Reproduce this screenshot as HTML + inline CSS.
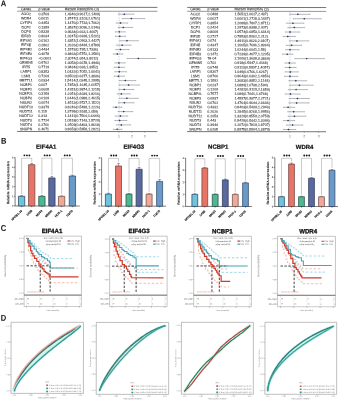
<!DOCTYPE html>
<html><head><meta charset="utf-8"><style>
html,body{margin:0;padding:0;background:#fff;width:340px;height:400px;overflow:hidden}
svg{display:block;font-family:"Liberation Sans", sans-serif;will-change:transform}
</style></head><body>
<svg width="340" height="400" viewBox="0 0 340 400">
<rect width="340" height="400" fill="#fff"/>
<g transform="rotate(0.05 170 200)">
<text x="0" y="0" font-size="7.6" fill="#111" font-weight="bold" transform="translate(0.6,6.4) scale(1,1.12)">A</text>
<text x="0" y="0" font-size="7.6" fill="#111" font-weight="bold" transform="translate(0.9,143.9) scale(1,1.12)">B</text>
<text x="0" y="0" font-size="7.6" fill="#111" font-weight="bold" transform="translate(0.9,231.2) scale(1,1.12)">C</text>
<text x="0" y="0" font-size="7.6" fill="#111" font-weight="bold" transform="translate(0.9,320.9) scale(1,1.12)">D</text>
<g stroke="#3a3a3a" stroke-width="0.09">
<line x1="17" y1="7.4" x2="157.3" y2="7.4" stroke="#3a3a3a" stroke-width="0.7" />
<line x1="17" y1="11.3" x2="157.3" y2="11.3" stroke="#444" stroke-width="0.55" />
<text x="26" y="10.3" font-size="3.5" fill="#3a3a3a" text-anchor="middle" font-weight="normal" >Genes</text>
<text x="38.3" y="10.3" font-size="3.5" fill="#3a3a3a" text-anchor="start" font-weight="normal" >p value</text>
<text x="64.6" y="10.3" font-size="3.5" fill="#3a3a3a" text-anchor="start" font-weight="normal" >Hazard Ratio(95% CI)</text>
<text x="26" y="15.25" font-size="3.5" fill="#3a3a3a" text-anchor="middle" font-weight="normal" >AGO2</text>
<text x="38.3" y="15.25" font-size="3.5" fill="#3a3a3a" text-anchor="start" font-weight="normal" >0.3769</text>
<text x="64.6" y="15.25" font-size="3.5" fill="#3a3a3a" text-anchor="start" font-weight="normal" >1.4346(0.9617,2.1409)</text>
<text x="26" y="19.68" font-size="3.5" fill="#3a3a3a" text-anchor="middle" font-weight="normal" >WDR4</text>
<text x="38.3" y="19.68" font-size="3.5" fill="#3a3a3a" text-anchor="start" font-weight="normal" >0.0011</text>
<text x="64.6" y="19.68" font-size="3.5" fill="#3a3a3a" text-anchor="start" font-weight="normal" >1.8747(1.3103,2.6761)</text>
<text x="26" y="24.11" font-size="3.5" fill="#3a3a3a" text-anchor="middle" font-weight="normal" >CYFIP1</text>
<text x="38.3" y="24.11" font-size="3.5" fill="#3a3a3a" text-anchor="start" font-weight="normal" >0.4453</text>
<text x="64.6" y="24.11" font-size="3.5" fill="#3a3a3a" text-anchor="start" font-weight="normal" >1.1476(0.7733,1.7062)</text>
<text x="26" y="28.54" font-size="3.5" fill="#3a3a3a" text-anchor="middle" font-weight="normal" >DCP2</text>
<text x="38.3" y="28.54" font-size="3.5" fill="#3a3a3a" text-anchor="start" font-weight="normal" >0.1359</text>
<text x="64.6" y="28.54" font-size="3.5" fill="#3a3a3a" text-anchor="start" font-weight="normal" >1.3537(0.9096,2.0146)</text>
<text x="26" y="32.97" font-size="3.5" fill="#3a3a3a" text-anchor="middle" font-weight="normal" >DCPS</text>
<text x="38.3" y="32.97" font-size="3.5" fill="#3a3a3a" text-anchor="start" font-weight="normal" >0.8338</text>
<text x="64.6" y="32.97" font-size="3.5" fill="#3a3a3a" text-anchor="start" font-weight="normal" >0.9634(0.663,1.4007)</text>
<text x="26" y="37.4" font-size="3.5" fill="#3a3a3a" text-anchor="middle" font-weight="normal" >EIF3D</text>
<text x="38.3" y="37.4" font-size="3.5" fill="#3a3a3a" text-anchor="start" font-weight="normal" >0.9034</text>
<text x="64.6" y="37.4" font-size="3.5" fill="#3a3a3a" text-anchor="start" font-weight="normal" >1.0247(0.6939,1.5201)</text>
<text x="26" y="41.83" font-size="3.5" fill="#3a3a3a" text-anchor="middle" font-weight="normal" >EIF4A1</text>
<text x="38.3" y="41.83" font-size="3.5" fill="#3a3a3a" text-anchor="start" font-weight="normal" >0.0162</text>
<text x="64.6" y="41.83" font-size="3.5" fill="#3a3a3a" text-anchor="start" font-weight="normal" >1.6351(1.0963,2.4427)</text>
<text x="26" y="46.26" font-size="3.5" fill="#3a3a3a" text-anchor="middle" font-weight="normal" >EIF4E</text>
<text x="38.3" y="46.26" font-size="3.5" fill="#3a3a3a" text-anchor="start" font-weight="normal" >0.2862</text>
<text x="64.6" y="46.26" font-size="3.5" fill="#3a3a3a" text-anchor="start" font-weight="normal" >1.2626(0.8484,1.8789)</text>
<text x="26" y="50.69" font-size="3.5" fill="#3a3a3a" text-anchor="middle" font-weight="normal" >EIF4E2</text>
<text x="38.3" y="50.69" font-size="3.5" fill="#3a3a3a" text-anchor="start" font-weight="normal" >0.4434</text>
<text x="64.6" y="50.69" font-size="3.5" fill="#3a3a3a" text-anchor="start" font-weight="normal" >1.1573(0.795,1.7336)</text>
<text x="26" y="55.12" font-size="3.5" fill="#3a3a3a" text-anchor="middle" font-weight="normal" >EIF4E3</text>
<text x="38.3" y="55.12" font-size="3.5" fill="#3a3a3a" text-anchor="start" font-weight="normal" >0.4078</text>
<text x="64.6" y="55.12" font-size="3.5" fill="#3a3a3a" text-anchor="start" font-weight="normal" >0.8463(0.5752,1.2581)</text>
<text x="26" y="59.55" font-size="3.5" fill="#3a3a3a" text-anchor="middle" font-weight="normal" >EIF4G3</text>
<text x="38.3" y="59.55" font-size="3.5" fill="#3a3a3a" text-anchor="start" font-weight="normal" >&lt;0.0001</text>
<text x="64.6" y="59.55" font-size="3.5" fill="#3a3a3a" text-anchor="start" font-weight="normal" >2.3074(1.654,3.8012)</text>
<text x="26" y="63.98" font-size="3.5" fill="#3a3a3a" text-anchor="middle" font-weight="normal" >GEMIN5</text>
<text x="38.3" y="63.98" font-size="3.5" fill="#3a3a3a" text-anchor="start" font-weight="normal" >0.9762</text>
<text x="64.6" y="63.98" font-size="3.5" fill="#3a3a3a" text-anchor="start" font-weight="normal" >1.0053(0.6678,1.4946)</text>
<text x="26" y="68.41" font-size="3.5" fill="#3a3a3a" text-anchor="middle" font-weight="normal" >IFIT5</text>
<text x="38.3" y="68.41" font-size="3.5" fill="#3a3a3a" text-anchor="start" font-weight="normal" >0.7719</text>
<text x="64.6" y="68.41" font-size="3.5" fill="#3a3a3a" text-anchor="start" font-weight="normal" >0.9434(0.638,1.3952)</text>
<text x="26" y="72.84" font-size="3.5" fill="#3a3a3a" text-anchor="middle" font-weight="normal" >LARP1</text>
<text x="38.3" y="72.84" font-size="3.5" fill="#3a3a3a" text-anchor="start" font-weight="normal" >0.8353</text>
<text x="64.6" y="72.84" font-size="3.5" fill="#3a3a3a" text-anchor="start" font-weight="normal" >1.0432(0.7052,1.6041)</text>
<text x="26" y="77.27" font-size="3.5" fill="#3a3a3a" text-anchor="middle" font-weight="normal" >LSM1</text>
<text x="38.3" y="77.27" font-size="3.5" fill="#3a3a3a" text-anchor="start" font-weight="normal" >0.7269</text>
<text x="64.6" y="77.27" font-size="3.5" fill="#3a3a3a" text-anchor="start" font-weight="normal" >0.9502(0.6377,1.3836)</text>
<text x="26" y="81.7" font-size="3.5" fill="#3a3a3a" text-anchor="middle" font-weight="normal" >METTL1</text>
<text x="38.3" y="81.7" font-size="3.5" fill="#3a3a3a" text-anchor="start" font-weight="normal" >0.0334</text>
<text x="64.6" y="81.7" font-size="3.5" fill="#3a3a3a" text-anchor="start" font-weight="normal" >1.5414(1.0345,2.2995)</text>
<text x="26" y="86.13" font-size="3.5" fill="#3a3a3a" text-anchor="middle" font-weight="normal" >NCBP1</text>
<text x="38.3" y="86.13" font-size="3.5" fill="#3a3a3a" text-anchor="start" font-weight="normal" >0.007</text>
<text x="64.6" y="86.13" font-size="3.5" fill="#3a3a3a" text-anchor="start" font-weight="normal" >1.7453(1.1645,2.6157)</text>
<text x="26" y="90.56" font-size="3.5" fill="#3a3a3a" text-anchor="middle" font-weight="normal" >NCBP2</text>
<text x="38.3" y="90.56" font-size="3.5" fill="#3a3a3a" text-anchor="start" font-weight="normal" >0.0605</text>
<text x="64.6" y="90.56" font-size="3.5" fill="#3a3a3a" text-anchor="start" font-weight="normal" >1.4251(0.9874,2.1215)</text>
<text x="26" y="94.99" font-size="3.5" fill="#3a3a3a" text-anchor="middle" font-weight="normal" >NCBP2L</text>
<text x="38.3" y="94.99" font-size="3.5" fill="#3a3a3a" text-anchor="start" font-weight="normal" >0.3159</text>
<text x="64.6" y="94.99" font-size="3.5" fill="#3a3a3a" text-anchor="start" font-weight="normal" >1.2251(0.8239,1.8216)</text>
<text x="26" y="99.42" font-size="3.5" fill="#3a3a3a" text-anchor="middle" font-weight="normal" >NCBP3</text>
<text x="38.3" y="99.42" font-size="3.5" fill="#3a3a3a" text-anchor="start" font-weight="normal" >0.0109</text>
<text x="64.6" y="99.42" font-size="3.5" fill="#3a3a3a" text-anchor="start" font-weight="normal" >1.6446(1.0988,2.4615)</text>
<text x="26" y="103.85" font-size="3.5" fill="#3a3a3a" text-anchor="middle" font-weight="normal" >NSUN2</text>
<text x="38.3" y="103.85" font-size="3.5" fill="#3a3a3a" text-anchor="start" font-weight="normal" >0.0074</text>
<text x="64.6" y="103.85" font-size="3.5" fill="#3a3a3a" text-anchor="start" font-weight="normal" >1.4513(0.9737,2.1522)</text>
<text x="26" y="108.28" font-size="3.5" fill="#3a3a3a" text-anchor="middle" font-weight="normal" >NUDT10</text>
<text x="38.3" y="108.28" font-size="3.5" fill="#3a3a3a" text-anchor="start" font-weight="normal" >0.3379</text>
<text x="64.6" y="108.28" font-size="3.5" fill="#3a3a3a" text-anchor="start" font-weight="normal" >0.8246(0.5498,1.2226)</text>
<text x="26" y="112.71" font-size="3.5" fill="#3a3a3a" text-anchor="middle" font-weight="normal" >NUDT11</text>
<text x="38.3" y="112.71" font-size="3.5" fill="#3a3a3a" text-anchor="start" font-weight="normal" >0.115</text>
<text x="64.6" y="112.71" font-size="3.5" fill="#3a3a3a" text-anchor="start" font-weight="normal" >1.3798(0.9245,2.059)</text>
<text x="26" y="117.14" font-size="3.5" fill="#3a3a3a" text-anchor="middle" font-weight="normal" >NUDT12</text>
<text x="38.3" y="117.14" font-size="3.5" fill="#3a3a3a" text-anchor="start" font-weight="normal" >0.313</text>
<text x="64.6" y="117.14" font-size="3.5" fill="#3a3a3a" text-anchor="start" font-weight="normal" >1.1411(0.7564,1.6444)</text>
<text x="26" y="121.57" font-size="3.5" fill="#3a3a3a" text-anchor="middle" font-weight="normal" >NUDT3</text>
<text x="38.3" y="121.57" font-size="3.5" fill="#3a3a3a" text-anchor="start" font-weight="normal" >0.7724</text>
<text x="64.6" y="121.57" font-size="3.5" fill="#3a3a3a" text-anchor="start" font-weight="normal" >1.0518(0.7143,1.5729)</text>
<text x="26" y="126" font-size="3.5" fill="#3a3a3a" text-anchor="middle" font-weight="normal" >NUDT4</text>
<text x="38.3" y="126" font-size="3.5" fill="#3a3a3a" text-anchor="start" font-weight="normal" >0.2701</text>
<text x="64.6" y="126" font-size="3.5" fill="#3a3a3a" text-anchor="start" font-weight="normal" >1.2509(0.8403,1.8618)</text>
<text x="26" y="130.43" font-size="3.5" fill="#3a3a3a" text-anchor="middle" font-weight="normal" >SNUPN</text>
<text x="38.3" y="130.43" font-size="3.5" fill="#3a3a3a" text-anchor="start" font-weight="normal" >0.4671</text>
<text x="64.6" y="130.43" font-size="3.5" fill="#3a3a3a" text-anchor="start" font-weight="normal" >0.8653(0.5858,1.2821)</text>
</g>
<line x1="119" y1="12" x2="119" y2="131.3" stroke="#8a93a3" stroke-width="0.4" stroke-dasharray="1.4,1.2"/>
<line x1="118.3" y1="14.2" x2="133.8" y2="14.2" stroke="#4a4f5a" stroke-width="0.42" />
<line x1="118.3" y1="13.7" x2="118.3" y2="14.7" stroke="#4a4f5a" stroke-width="0.3" />
<line x1="133.8" y1="13.7" x2="133.8" y2="14.7" stroke="#4a4f5a" stroke-width="0.3" />
<rect x="123.4" y="13.5" width="1.4" height="1.4" fill="#24365e" transform="rotate(45 124.1 14.2)"/>
<line x1="122" y1="18.63" x2="144.6" y2="18.63" stroke="#4a4f5a" stroke-width="0.42" />
<line x1="122" y1="18.13" x2="122" y2="19.13" stroke="#4a4f5a" stroke-width="0.3" />
<line x1="144.6" y1="18.13" x2="144.6" y2="19.13" stroke="#4a4f5a" stroke-width="0.3" />
<rect x="130.5" y="17.93" width="1.4" height="1.4" fill="#24365e" transform="rotate(45 131.2 18.63)"/>
<line x1="116" y1="23.06" x2="127.6" y2="23.06" stroke="#4a4f5a" stroke-width="0.42" />
<line x1="116" y1="22.56" x2="116" y2="23.56" stroke="#4a4f5a" stroke-width="0.3" />
<line x1="127.6" y1="22.56" x2="127.6" y2="23.56" stroke="#4a4f5a" stroke-width="0.3" />
<rect x="119.7" y="22.36" width="1.4" height="1.4" fill="#24365e" transform="rotate(45 120.4 23.06)"/>
<line x1="118" y1="27.49" x2="132.5" y2="27.49" stroke="#4a4f5a" stroke-width="0.42" />
<line x1="118" y1="26.99" x2="118" y2="27.99" stroke="#4a4f5a" stroke-width="0.3" />
<line x1="132.5" y1="26.99" x2="132.5" y2="27.99" stroke="#4a4f5a" stroke-width="0.3" />
<rect x="122.4" y="26.79" width="1.4" height="1.4" fill="#24365e" transform="rotate(45 123.1 27.49)"/>
<line x1="115" y1="31.92" x2="125.2" y2="31.92" stroke="#4a4f5a" stroke-width="0.42" />
<line x1="115" y1="31.42" x2="115" y2="32.42" stroke="#4a4f5a" stroke-width="0.3" />
<line x1="125.2" y1="31.42" x2="125.2" y2="32.42" stroke="#4a4f5a" stroke-width="0.3" />
<rect x="118.5" y="31.22" width="1.4" height="1.4" fill="#24365e" transform="rotate(45 119.2 31.92)"/>
<line x1="115" y1="36.35" x2="125.7" y2="36.35" stroke="#4a4f5a" stroke-width="0.42" />
<line x1="115" y1="35.85" x2="115" y2="36.85" stroke="#4a4f5a" stroke-width="0.3" />
<line x1="125.7" y1="35.85" x2="125.7" y2="36.85" stroke="#4a4f5a" stroke-width="0.3" />
<rect x="118.9" y="35.65" width="1.4" height="1.4" fill="#24365e" transform="rotate(45 119.6 36.35)"/>
<line x1="119.6" y1="40.78" x2="138.2" y2="40.78" stroke="#4a4f5a" stroke-width="0.42" />
<line x1="119.6" y1="40.28" x2="119.6" y2="41.28" stroke="#4a4f5a" stroke-width="0.3" />
<line x1="138.2" y1="40.28" x2="138.2" y2="41.28" stroke="#4a4f5a" stroke-width="0.3" />
<rect x="126.1" y="40.08" width="1.4" height="1.4" fill="#24365e" transform="rotate(45 126.8 40.78)"/>
<line x1="116.3" y1="45.21" x2="130.9" y2="45.21" stroke="#4a4f5a" stroke-width="0.42" />
<line x1="116.3" y1="44.71" x2="116.3" y2="45.71" stroke="#4a4f5a" stroke-width="0.3" />
<line x1="130.9" y1="44.71" x2="130.9" y2="45.71" stroke="#4a4f5a" stroke-width="0.3" />
<rect x="121.3" y="44.51" width="1.4" height="1.4" fill="#24365e" transform="rotate(45 122 45.21)"/>
<line x1="115.5" y1="49.64" x2="129" y2="49.64" stroke="#4a4f5a" stroke-width="0.42" />
<line x1="115.5" y1="49.14" x2="115.5" y2="50.14" stroke="#4a4f5a" stroke-width="0.3" />
<line x1="129" y1="49.14" x2="129" y2="50.14" stroke="#4a4f5a" stroke-width="0.3" />
<rect x="119.7" y="48.94" width="1.4" height="1.4" fill="#24365e" transform="rotate(45 120.4 49.64)"/>
<line x1="113.1" y1="54.07" x2="122.8" y2="54.07" stroke="#4a4f5a" stroke-width="0.42" />
<line x1="113.1" y1="53.57" x2="113.1" y2="54.57" stroke="#4a4f5a" stroke-width="0.3" />
<line x1="122.8" y1="53.57" x2="122.8" y2="54.57" stroke="#4a4f5a" stroke-width="0.3" />
<rect x="116.4" y="53.37" width="1.4" height="1.4" fill="#24365e" transform="rotate(45 117.1 54.07)"/>
<line x1="126.8" y1="58.5" x2="155.5" y2="58.5" stroke="#4a4f5a" stroke-width="0.42" />
<line x1="126.8" y1="58" x2="126.8" y2="59" stroke="#4a4f5a" stroke-width="0.3" />
<line x1="155.5" y1="58" x2="155.5" y2="59" stroke="#4a4f5a" stroke-width="0.3" />
<rect x="137.5" y="57.8" width="1.4" height="1.4" fill="#24365e" transform="rotate(45 138.2 58.5)"/>
<line x1="114.7" y1="62.93" x2="125.2" y2="62.93" stroke="#4a4f5a" stroke-width="0.42" />
<line x1="114.7" y1="62.43" x2="114.7" y2="63.43" stroke="#4a4f5a" stroke-width="0.3" />
<line x1="125.2" y1="62.43" x2="125.2" y2="63.43" stroke="#4a4f5a" stroke-width="0.3" />
<rect x="118.1" y="62.23" width="1.4" height="1.4" fill="#24365e" transform="rotate(45 118.8 62.93)"/>
<line x1="113.9" y1="67.36" x2="124.4" y2="67.36" stroke="#4a4f5a" stroke-width="0.42" />
<line x1="113.9" y1="66.86" x2="113.9" y2="67.86" stroke="#4a4f5a" stroke-width="0.3" />
<line x1="124.4" y1="66.86" x2="124.4" y2="67.86" stroke="#4a4f5a" stroke-width="0.3" />
<rect x="118.1" y="66.66" width="1.4" height="1.4" fill="#24365e" transform="rotate(45 118.8 67.36)"/>
<line x1="114.7" y1="71.79" x2="126.4" y2="71.79" stroke="#4a4f5a" stroke-width="0.42" />
<line x1="114.7" y1="71.29" x2="114.7" y2="72.29" stroke="#4a4f5a" stroke-width="0.3" />
<line x1="126.4" y1="71.29" x2="126.4" y2="72.29" stroke="#4a4f5a" stroke-width="0.3" />
<rect x="118.5" y="71.09" width="1.4" height="1.4" fill="#24365e" transform="rotate(45 119.2 71.79)"/>
<line x1="113.9" y1="76.22" x2="124.4" y2="76.22" stroke="#4a4f5a" stroke-width="0.42" />
<line x1="113.9" y1="75.72" x2="113.9" y2="76.72" stroke="#4a4f5a" stroke-width="0.3" />
<line x1="124.4" y1="75.72" x2="124.4" y2="76.72" stroke="#4a4f5a" stroke-width="0.3" />
<rect x="117.6" y="75.52" width="1.4" height="1.4" fill="#24365e" transform="rotate(45 118.3 76.22)"/>
<line x1="119.2" y1="80.65" x2="135.7" y2="80.65" stroke="#4a4f5a" stroke-width="0.42" />
<line x1="119.2" y1="80.15" x2="119.2" y2="81.15" stroke="#4a4f5a" stroke-width="0.3" />
<line x1="135.7" y1="80.15" x2="135.7" y2="81.15" stroke="#4a4f5a" stroke-width="0.3" />
<rect x="124.5" y="79.95" width="1.4" height="1.4" fill="#24365e" transform="rotate(45 125.2 80.65)"/>
<line x1="118.8" y1="85.08" x2="139.3" y2="85.08" stroke="#4a4f5a" stroke-width="0.42" />
<line x1="118.8" y1="84.58" x2="118.8" y2="85.58" stroke="#4a4f5a" stroke-width="0.3" />
<line x1="139.3" y1="84.58" x2="139.3" y2="85.58" stroke="#4a4f5a" stroke-width="0.3" />
<rect x="127.8" y="84.38" width="1.4" height="1.4" fill="#24365e" transform="rotate(45 128.5 85.08)"/>
<line x1="118.8" y1="89.51" x2="133.8" y2="89.51" stroke="#4a4f5a" stroke-width="0.42" />
<line x1="118.8" y1="89.01" x2="118.8" y2="90.01" stroke="#4a4f5a" stroke-width="0.3" />
<line x1="133.8" y1="89.01" x2="133.8" y2="90.01" stroke="#4a4f5a" stroke-width="0.3" />
<rect x="123.4" y="88.81" width="1.4" height="1.4" fill="#24365e" transform="rotate(45 124.1 89.51)"/>
<line x1="117.1" y1="93.94" x2="130.1" y2="93.94" stroke="#4a4f5a" stroke-width="0.42" />
<line x1="117.1" y1="93.44" x2="117.1" y2="94.44" stroke="#4a4f5a" stroke-width="0.3" />
<line x1="130.1" y1="93.44" x2="130.1" y2="94.44" stroke="#4a4f5a" stroke-width="0.3" />
<rect x="120.5" y="93.24" width="1.4" height="1.4" fill="#24365e" transform="rotate(45 121.2 93.94)"/>
<line x1="119.2" y1="98.37" x2="138.2" y2="98.37" stroke="#4a4f5a" stroke-width="0.42" />
<line x1="119.2" y1="97.87" x2="119.2" y2="98.87" stroke="#4a4f5a" stroke-width="0.3" />
<line x1="138.2" y1="97.87" x2="138.2" y2="98.87" stroke="#4a4f5a" stroke-width="0.3" />
<rect x="126.1" y="97.67" width="1.4" height="1.4" fill="#24365e" transform="rotate(45 126.8 98.37)"/>
<line x1="118.4" y1="102.8" x2="134.1" y2="102.8" stroke="#4a4f5a" stroke-width="0.42" />
<line x1="118.4" y1="102.3" x2="118.4" y2="103.3" stroke="#4a4f5a" stroke-width="0.3" />
<line x1="134.1" y1="102.3" x2="134.1" y2="103.3" stroke="#4a4f5a" stroke-width="0.3" />
<rect x="123.6" y="102.1" width="1.4" height="1.4" fill="#24365e" transform="rotate(45 124.3 102.8)"/>
<line x1="112.8" y1="107.23" x2="122" y2="107.23" stroke="#4a4f5a" stroke-width="0.42" />
<line x1="112.8" y1="106.73" x2="112.8" y2="107.73" stroke="#4a4f5a" stroke-width="0.3" />
<line x1="122" y1="106.73" x2="122" y2="107.73" stroke="#4a4f5a" stroke-width="0.3" />
<rect x="115.3" y="106.53" width="1.4" height="1.4" fill="#24365e" transform="rotate(45 116 107.23)"/>
<line x1="118" y1="111.66" x2="132.8" y2="111.66" stroke="#4a4f5a" stroke-width="0.42" />
<line x1="118" y1="111.16" x2="118" y2="112.16" stroke="#4a4f5a" stroke-width="0.3" />
<line x1="132.8" y1="111.16" x2="132.8" y2="112.16" stroke="#4a4f5a" stroke-width="0.3" />
<rect x="122.9" y="110.96" width="1.4" height="1.4" fill="#24365e" transform="rotate(45 123.6 111.66)"/>
<line x1="115" y1="116.09" x2="127.7" y2="116.09" stroke="#4a4f5a" stroke-width="0.42" />
<line x1="115" y1="115.59" x2="115" y2="116.59" stroke="#4a4f5a" stroke-width="0.3" />
<line x1="127.7" y1="115.59" x2="127.7" y2="116.59" stroke="#4a4f5a" stroke-width="0.3" />
<rect x="119.7" y="115.39" width="1.4" height="1.4" fill="#24365e" transform="rotate(45 120.4 116.09)"/>
<line x1="114.7" y1="120.52" x2="126.8" y2="120.52" stroke="#4a4f5a" stroke-width="0.42" />
<line x1="114.7" y1="120.02" x2="114.7" y2="121.02" stroke="#4a4f5a" stroke-width="0.3" />
<line x1="126.8" y1="120.02" x2="126.8" y2="121.02" stroke="#4a4f5a" stroke-width="0.3" />
<rect x="118.9" y="119.82" width="1.4" height="1.4" fill="#24365e" transform="rotate(45 119.6 120.52)"/>
<line x1="116.3" y1="124.95" x2="130.6" y2="124.95" stroke="#4a4f5a" stroke-width="0.42" />
<line x1="116.3" y1="124.45" x2="116.3" y2="125.45" stroke="#4a4f5a" stroke-width="0.3" />
<line x1="130.6" y1="124.45" x2="130.6" y2="125.45" stroke="#4a4f5a" stroke-width="0.3" />
<rect x="120.5" y="124.25" width="1.4" height="1.4" fill="#24365e" transform="rotate(45 121.2 124.95)"/>
<line x1="113.1" y1="129.38" x2="122" y2="129.38" stroke="#4a4f5a" stroke-width="0.42" />
<line x1="113.1" y1="128.88" x2="113.1" y2="129.88" stroke="#4a4f5a" stroke-width="0.3" />
<line x1="122" y1="128.88" x2="122" y2="129.88" stroke="#4a4f5a" stroke-width="0.3" />
<rect x="116.4" y="128.68" width="1.4" height="1.4" fill="#24365e" transform="rotate(45 117.1 129.38)"/>
<line x1="17" y1="131.6" x2="157.3" y2="131.6" stroke="#3a3a3a" stroke-width="0.7" />
<line x1="119" y1="131.5" x2="119" y2="132.8" stroke="#666" stroke-width="0.4" />
<text x="119" y="137.2" font-size="3.4" fill="#555" text-anchor="middle" font-weight="normal" >1</text>
<line x1="131.8" y1="131.5" x2="131.8" y2="132.8" stroke="#666" stroke-width="0.4" />
<text x="131.8" y="137.2" font-size="3.4" fill="#555" text-anchor="middle" font-weight="normal" >2</text>
<line x1="144.6" y1="131.5" x2="144.6" y2="132.8" stroke="#666" stroke-width="0.4" />
<text x="144.6" y="137.2" font-size="3.4" fill="#555" text-anchor="middle" font-weight="normal" >3</text>
<g stroke="#3a3a3a" stroke-width="0.09">
<line x1="187" y1="7.4" x2="326" y2="7.4" stroke="#3a3a3a" stroke-width="0.7" />
<line x1="187" y1="11.3" x2="326" y2="11.3" stroke="#444" stroke-width="0.55" />
<text x="195.3" y="10.3" font-size="3.5" fill="#3a3a3a" text-anchor="middle" font-weight="normal" >Genes</text>
<text x="207.3" y="10.3" font-size="3.5" fill="#3a3a3a" text-anchor="start" font-weight="normal" >p value</text>
<text x="234.3" y="10.3" font-size="3.5" fill="#3a3a3a" text-anchor="start" font-weight="normal" >Hazard Ratio(95% CI)</text>
<text x="195.3" y="15.25" font-size="3.5" fill="#3a3a3a" text-anchor="middle" font-weight="normal" >AGO2</text>
<text x="207.3" y="15.25" font-size="3.5" fill="#3a3a3a" text-anchor="start" font-weight="normal" >0.0498</text>
<text x="234.3" y="15.25" font-size="3.5" fill="#3a3a3a" text-anchor="start" font-weight="normal" >1.5652(1.0627,2.437)</text>
<text x="195.3" y="19.68" font-size="3.5" fill="#3a3a3a" text-anchor="middle" font-weight="normal" >WDR4</text>
<text x="207.3" y="19.68" font-size="3.5" fill="#3a3a3a" text-anchor="start" font-weight="normal" >0.0027</text>
<text x="234.3" y="19.68" font-size="3.5" fill="#3a3a3a" text-anchor="start" font-weight="normal" >2.0001(1.2728,3.1447)</text>
<text x="195.3" y="24.11" font-size="3.5" fill="#3a3a3a" text-anchor="middle" font-weight="normal" >CYFIP1</text>
<text x="207.3" y="24.11" font-size="3.5" fill="#3a3a3a" text-anchor="start" font-weight="normal" >0.3854</text>
<text x="234.3" y="24.11" font-size="3.5" fill="#3a3a3a" text-anchor="start" font-weight="normal" >1.2088(0.7807,1.8711)</text>
<text x="195.3" y="28.54" font-size="3.5" fill="#3a3a3a" text-anchor="middle" font-weight="normal" >DCP2</text>
<text x="207.3" y="28.54" font-size="3.5" fill="#3a3a3a" text-anchor="start" font-weight="normal" >0.2424</text>
<text x="234.3" y="28.54" font-size="3.5" fill="#3a3a3a" text-anchor="start" font-weight="normal" >1.2973(0.8388,2.007)</text>
<text x="195.3" y="32.97" font-size="3.5" fill="#3a3a3a" text-anchor="middle" font-weight="normal" >DCPS</text>
<text x="207.3" y="32.97" font-size="3.5" fill="#3a3a3a" text-anchor="start" font-weight="normal" >0.8009</text>
<text x="234.3" y="32.97" font-size="3.5" fill="#3a3a3a" text-anchor="start" font-weight="normal" >1.0574(0.6853,1.6314)</text>
<text x="195.3" y="37.4" font-size="3.5" fill="#3a3a3a" text-anchor="middle" font-weight="normal" >EIF3D</text>
<text x="207.3" y="37.4" font-size="3.5" fill="#3a3a3a" text-anchor="start" font-weight="normal" >0.2727</text>
<text x="234.3" y="37.4" font-size="3.5" fill="#3a3a3a" text-anchor="start" font-weight="normal" >0.7853(0.5062,1.212)</text>
<text x="195.3" y="41.83" font-size="3.5" fill="#3a3a3a" text-anchor="middle" font-weight="normal" >EIF4A1</text>
<text x="207.3" y="41.83" font-size="3.5" fill="#3a3a3a" text-anchor="start" font-weight="normal" >0.074</text>
<text x="234.3" y="41.83" font-size="3.5" fill="#3a3a3a" text-anchor="start" font-weight="normal" >1.4911(0.9623,2.3107)</text>
<text x="195.3" y="46.26" font-size="3.5" fill="#3a3a3a" text-anchor="middle" font-weight="normal" >EIF4E</text>
<text x="207.3" y="46.26" font-size="3.5" fill="#3a3a3a" text-anchor="start" font-weight="normal" >0.4347</text>
<text x="234.3" y="46.26" font-size="3.5" fill="#3a3a3a" text-anchor="start" font-weight="normal" >1.1665(0.7696,1.8364)</text>
<text x="195.3" y="50.69" font-size="3.5" fill="#3a3a3a" text-anchor="middle" font-weight="normal" >EIF4E2</text>
<text x="207.3" y="50.69" font-size="3.5" fill="#3a3a3a" text-anchor="start" font-weight="normal" >0.9133</text>
<text x="234.3" y="50.69" font-size="3.5" fill="#3a3a3a" text-anchor="start" font-weight="normal" >1.0244(0.6641,1.58)</text>
<text x="195.3" y="55.12" font-size="3.5" fill="#3a3a3a" text-anchor="middle" font-weight="normal" >EIF4E3</text>
<text x="207.3" y="55.12" font-size="3.5" fill="#3a3a3a" text-anchor="start" font-weight="normal" >0.1472</text>
<text x="234.3" y="55.12" font-size="3.5" fill="#3a3a3a" text-anchor="start" font-weight="normal" >0.7239(0.4677,1.1205)</text>
<text x="195.3" y="59.55" font-size="3.5" fill="#3a3a3a" text-anchor="middle" font-weight="normal" >EIF4G3</text>
<text x="207.3" y="59.55" font-size="3.5" fill="#3a3a3a" text-anchor="start" font-weight="normal" >7e-04</text>
<text x="234.3" y="59.55" font-size="3.5" fill="#3a3a3a" text-anchor="start" font-weight="normal" >2.1006(1.3638,3.3869)</text>
<text x="195.3" y="63.98" font-size="3.5" fill="#3a3a3a" text-anchor="middle" font-weight="normal" >GEMIN5</text>
<text x="207.3" y="63.98" font-size="3.5" fill="#3a3a3a" text-anchor="start" font-weight="normal" >0.702</text>
<text x="234.3" y="63.98" font-size="3.5" fill="#3a3a3a" text-anchor="start" font-weight="normal" >0.918(0.5947,1.4168)</text>
<text x="195.3" y="68.41" font-size="3.5" fill="#3a3a3a" text-anchor="middle" font-weight="normal" >IFIT5</text>
<text x="207.3" y="68.41" font-size="3.5" fill="#3a3a3a" text-anchor="start" font-weight="normal" >0.6748</text>
<text x="234.3" y="68.41" font-size="3.5" fill="#3a3a3a" text-anchor="start" font-weight="normal" >0.9113(0.5907,1.4057)</text>
<text x="195.3" y="72.84" font-size="3.5" fill="#3a3a3a" text-anchor="middle" font-weight="normal" >LARP1</text>
<text x="207.3" y="72.84" font-size="3.5" fill="#3a3a3a" text-anchor="start" font-weight="normal" >0.8307</text>
<text x="234.3" y="72.84" font-size="3.5" fill="#3a3a3a" text-anchor="start" font-weight="normal" >1.049(0.6766,1.6267)</text>
<text x="195.3" y="77.27" font-size="3.5" fill="#3a3a3a" text-anchor="middle" font-weight="normal" >LSM1</text>
<text x="207.3" y="77.27" font-size="3.5" fill="#3a3a3a" text-anchor="start" font-weight="normal" >0.8706</text>
<text x="234.3" y="77.27" font-size="3.5" fill="#3a3a3a" text-anchor="start" font-weight="normal" >0.9643(0.6302,1.4856)</text>
<text x="195.3" y="81.7" font-size="3.5" fill="#3a3a3a" text-anchor="middle" font-weight="normal" >METTL1</text>
<text x="207.3" y="81.7" font-size="3.5" fill="#3a3a3a" text-anchor="start" font-weight="normal" >0.1592</text>
<text x="234.3" y="81.7" font-size="3.5" fill="#3a3a3a" text-anchor="start" font-weight="normal" >1.3683(0.8852,2.1148)</text>
<text x="195.3" y="86.13" font-size="3.5" fill="#3a3a3a" text-anchor="middle" font-weight="normal" >NCBP1</text>
<text x="207.3" y="86.13" font-size="3.5" fill="#3a3a3a" text-anchor="start" font-weight="normal" >0.0237</text>
<text x="234.3" y="86.13" font-size="3.5" fill="#3a3a3a" text-anchor="start" font-weight="normal" >1.6889(1.0738,2.594)</text>
<text x="195.3" y="90.56" font-size="3.5" fill="#3a3a3a" text-anchor="middle" font-weight="normal" >NCBP2</text>
<text x="207.3" y="90.56" font-size="3.5" fill="#3a3a3a" text-anchor="start" font-weight="normal" >0.1209</text>
<text x="234.3" y="90.56" font-size="3.5" fill="#3a3a3a" text-anchor="start" font-weight="normal" >1.4282(0.9129,2.1859)</text>
<text x="195.3" y="94.99" font-size="3.5" fill="#3a3a3a" text-anchor="middle" font-weight="normal" >NCBP2L</text>
<text x="207.3" y="94.99" font-size="3.5" fill="#3a3a3a" text-anchor="start" font-weight="normal" >0.7577</text>
<text x="234.3" y="94.99" font-size="3.5" fill="#3a3a3a" text-anchor="start" font-weight="normal" >1.089(0.7041,1.6768)</text>
<text x="195.3" y="99.42" font-size="3.5" fill="#3a3a3a" text-anchor="middle" font-weight="normal" >NCBP3</text>
<text x="207.3" y="99.42" font-size="3.5" fill="#3a3a3a" text-anchor="start" font-weight="normal" >0.0937</text>
<text x="234.3" y="99.42" font-size="3.5" fill="#3a3a3a" text-anchor="start" font-weight="normal" >1.4597(0.9377,2.2721)</text>
<text x="195.3" y="103.85" font-size="3.5" fill="#3a3a3a" text-anchor="middle" font-weight="normal" >NSUN2</text>
<text x="207.3" y="103.85" font-size="3.5" fill="#3a3a3a" text-anchor="start" font-weight="normal" >0.0762</text>
<text x="234.3" y="103.85" font-size="3.5" fill="#3a3a3a" text-anchor="start" font-weight="normal" >1.4764(0.9644,2.3636)</text>
<text x="195.3" y="108.28" font-size="3.5" fill="#3a3a3a" text-anchor="middle" font-weight="normal" >NUDT10</text>
<text x="207.3" y="108.28" font-size="3.5" fill="#3a3a3a" text-anchor="start" font-weight="normal" >0.4332</text>
<text x="234.3" y="108.28" font-size="3.5" fill="#3a3a3a" text-anchor="start" font-weight="normal" >0.8403(0.5439,1.2943)</text>
<text x="195.3" y="112.71" font-size="3.5" fill="#3a3a3a" text-anchor="middle" font-weight="normal" >NUDT11</text>
<text x="207.3" y="112.71" font-size="3.5" fill="#3a3a3a" text-anchor="start" font-weight="normal" >0.2626</text>
<text x="234.3" y="112.71" font-size="3.5" fill="#3a3a3a" text-anchor="start" font-weight="normal" >1.2845(0.8268,1.9956)</text>
<text x="195.3" y="117.14" font-size="3.5" fill="#3a3a3a" text-anchor="middle" font-weight="normal" >NUDT12</text>
<text x="207.3" y="117.14" font-size="3.5" fill="#3a3a3a" text-anchor="start" font-weight="normal" >0.2053</text>
<text x="234.3" y="117.14" font-size="3.5" fill="#3a3a3a" text-anchor="start" font-weight="normal" >1.3329(0.8559,2.0759)</text>
<text x="195.3" y="121.57" font-size="3.5" fill="#3a3a3a" text-anchor="middle" font-weight="normal" >NUDT3</text>
<text x="207.3" y="121.57" font-size="3.5" fill="#3a3a3a" text-anchor="start" font-weight="normal" >0.443</text>
<text x="234.3" y="121.57" font-size="3.5" fill="#3a3a3a" text-anchor="start" font-weight="normal" >0.8429(0.5442,1.3094)</text>
<text x="195.3" y="126" font-size="3.5" fill="#3a3a3a" text-anchor="middle" font-weight="normal" >NUDT4</text>
<text x="207.3" y="126" font-size="3.5" fill="#3a3a3a" text-anchor="start" font-weight="normal" >0.3944</text>
<text x="234.3" y="126" font-size="3.5" fill="#3a3a3a" text-anchor="start" font-weight="normal" >1.2072(0.7819,1.8707)</text>
<text x="195.3" y="130.43" font-size="3.5" fill="#3a3a3a" text-anchor="middle" font-weight="normal" >SNUPN</text>
<text x="207.3" y="130.43" font-size="3.5" fill="#3a3a3a" text-anchor="start" font-weight="normal" >0.6265</text>
<text x="234.3" y="130.43" font-size="3.5" fill="#3a3a3a" text-anchor="start" font-weight="normal" >0.8975(0.5904,1.3879)</text>
</g>
<line x1="289.8" y1="12" x2="289.8" y2="131.3" stroke="#8a93a3" stroke-width="0.4" stroke-dasharray="1.4,1.2"/>
<line x1="289.6" y1="14.2" x2="309.8" y2="14.2" stroke="#4a4f5a" stroke-width="0.42" />
<line x1="289.6" y1="13.7" x2="289.6" y2="14.7" stroke="#4a4f5a" stroke-width="0.3" />
<line x1="309.8" y1="13.7" x2="309.8" y2="14.7" stroke="#4a4f5a" stroke-width="0.3" />
<rect x="297" y="13.5" width="1.4" height="1.4" fill="#24365e" transform="rotate(45 297.7 14.2)"/>
<line x1="293.1" y1="18.63" x2="321.1" y2="18.63" stroke="#4a4f5a" stroke-width="0.42" />
<line x1="293.1" y1="18.13" x2="293.1" y2="19.13" stroke="#4a4f5a" stroke-width="0.3" />
<line x1="321.1" y1="18.13" x2="321.1" y2="19.13" stroke="#4a4f5a" stroke-width="0.3" />
<rect x="303.4" y="17.93" width="1.4" height="1.4" fill="#24365e" transform="rotate(45 304.1 18.63)"/>
<line x1="286.3" y1="23.06" x2="303.8" y2="23.06" stroke="#4a4f5a" stroke-width="0.42" />
<line x1="286.3" y1="22.56" x2="286.3" y2="23.56" stroke="#4a4f5a" stroke-width="0.3" />
<line x1="303.8" y1="22.56" x2="303.8" y2="23.56" stroke="#4a4f5a" stroke-width="0.3" />
<rect x="292.1" y="22.36" width="1.4" height="1.4" fill="#24365e" transform="rotate(45 292.8 23.06)"/>
<line x1="287.6" y1="27.49" x2="304.4" y2="27.49" stroke="#4a4f5a" stroke-width="0.42" />
<line x1="287.6" y1="26.99" x2="287.6" y2="27.99" stroke="#4a4f5a" stroke-width="0.3" />
<line x1="304.4" y1="26.99" x2="304.4" y2="27.99" stroke="#4a4f5a" stroke-width="0.3" />
<rect x="293.4" y="26.79" width="1.4" height="1.4" fill="#24365e" transform="rotate(45 294.1 27.49)"/>
<line x1="285" y1="31.92" x2="299.6" y2="31.92" stroke="#4a4f5a" stroke-width="0.42" />
<line x1="285" y1="31.42" x2="285" y2="32.42" stroke="#4a4f5a" stroke-width="0.3" />
<line x1="299.6" y1="31.42" x2="299.6" y2="32.42" stroke="#4a4f5a" stroke-width="0.3" />
<rect x="289.2" y="31.22" width="1.4" height="1.4" fill="#24365e" transform="rotate(45 289.9 31.92)"/>
<line x1="282.8" y1="36.35" x2="295.2" y2="36.35" stroke="#4a4f5a" stroke-width="0.42" />
<line x1="282.8" y1="35.85" x2="282.8" y2="36.85" stroke="#4a4f5a" stroke-width="0.3" />
<line x1="295.2" y1="35.85" x2="295.2" y2="36.85" stroke="#4a4f5a" stroke-width="0.3" />
<rect x="286.9" y="35.65" width="1.4" height="1.4" fill="#24365e" transform="rotate(45 287.6 36.35)"/>
<line x1="289.2" y1="40.78" x2="308.7" y2="40.78" stroke="#4a4f5a" stroke-width="0.42" />
<line x1="289.2" y1="40.28" x2="289.2" y2="41.28" stroke="#4a4f5a" stroke-width="0.3" />
<line x1="308.7" y1="40.28" x2="308.7" y2="41.28" stroke="#4a4f5a" stroke-width="0.3" />
<rect x="296.1" y="40.08" width="1.4" height="1.4" fill="#24365e" transform="rotate(45 296.8 40.78)"/>
<line x1="286" y1="45.21" x2="301.7" y2="45.21" stroke="#4a4f5a" stroke-width="0.42" />
<line x1="286" y1="44.71" x2="286" y2="45.71" stroke="#4a4f5a" stroke-width="0.3" />
<line x1="301.7" y1="44.71" x2="301.7" y2="45.71" stroke="#4a4f5a" stroke-width="0.3" />
<rect x="290.8" y="44.51" width="1.4" height="1.4" fill="#24365e" transform="rotate(45 291.5 45.21)"/>
<line x1="285.5" y1="49.64" x2="299" y2="49.64" stroke="#4a4f5a" stroke-width="0.42" />
<line x1="285.5" y1="49.14" x2="285.5" y2="50.14" stroke="#4a4f5a" stroke-width="0.3" />
<line x1="299" y1="49.14" x2="299" y2="50.14" stroke="#4a4f5a" stroke-width="0.3" />
<rect x="289.2" y="48.94" width="1.4" height="1.4" fill="#24365e" transform="rotate(45 289.9 49.64)"/>
<line x1="282.3" y1="54.07" x2="292.8" y2="54.07" stroke="#4a4f5a" stroke-width="0.42" />
<line x1="282.3" y1="53.57" x2="282.3" y2="54.57" stroke="#4a4f5a" stroke-width="0.3" />
<line x1="292.8" y1="53.57" x2="292.8" y2="54.57" stroke="#4a4f5a" stroke-width="0.3" />
<rect x="286.4" y="53.37" width="1.4" height="1.4" fill="#24365e" transform="rotate(45 287.1 54.07)"/>
<line x1="294.7" y1="58.5" x2="324.4" y2="58.5" stroke="#4a4f5a" stroke-width="0.42" />
<line x1="294.7" y1="58" x2="294.7" y2="59" stroke="#4a4f5a" stroke-width="0.3" />
<line x1="324.4" y1="58" x2="324.4" y2="59" stroke="#4a4f5a" stroke-width="0.3" />
<rect x="305.9" y="57.8" width="1.4" height="1.4" fill="#24365e" transform="rotate(45 306.6 58.5)"/>
<line x1="284.7" y1="62.93" x2="295.2" y2="62.93" stroke="#4a4f5a" stroke-width="0.42" />
<line x1="284.7" y1="62.43" x2="284.7" y2="63.43" stroke="#4a4f5a" stroke-width="0.3" />
<line x1="295.2" y1="62.43" x2="295.2" y2="63.43" stroke="#4a4f5a" stroke-width="0.3" />
<rect x="288.5" y="62.23" width="1.4" height="1.4" fill="#24365e" transform="rotate(45 289.2 62.93)"/>
<line x1="285" y1="67.36" x2="296" y2="67.36" stroke="#4a4f5a" stroke-width="0.42" />
<line x1="285" y1="66.86" x2="285" y2="67.86" stroke="#4a4f5a" stroke-width="0.3" />
<line x1="296" y1="66.86" x2="296" y2="67.86" stroke="#4a4f5a" stroke-width="0.3" />
<rect x="288.9" y="66.66" width="1.4" height="1.4" fill="#24365e" transform="rotate(45 289.6 67.36)"/>
<line x1="285" y1="71.79" x2="298.3" y2="71.79" stroke="#4a4f5a" stroke-width="0.42" />
<line x1="285" y1="71.29" x2="285" y2="72.29" stroke="#4a4f5a" stroke-width="0.3" />
<line x1="298.3" y1="71.29" x2="298.3" y2="72.29" stroke="#4a4f5a" stroke-width="0.3" />
<rect x="289.5" y="71.09" width="1.4" height="1.4" fill="#24365e" transform="rotate(45 290.2 71.79)"/>
<line x1="284.4" y1="76.22" x2="297.7" y2="76.22" stroke="#4a4f5a" stroke-width="0.42" />
<line x1="284.4" y1="75.72" x2="284.4" y2="76.72" stroke="#4a4f5a" stroke-width="0.3" />
<line x1="297.7" y1="75.72" x2="297.7" y2="76.72" stroke="#4a4f5a" stroke-width="0.3" />
<rect x="289.2" y="75.52" width="1.4" height="1.4" fill="#24365e" transform="rotate(45 289.9 76.22)"/>
<line x1="288.8" y1="80.65" x2="306.6" y2="80.65" stroke="#4a4f5a" stroke-width="0.42" />
<line x1="288.8" y1="80.15" x2="288.8" y2="81.15" stroke="#4a4f5a" stroke-width="0.3" />
<line x1="306.6" y1="80.15" x2="306.6" y2="81.15" stroke="#4a4f5a" stroke-width="0.3" />
<rect x="295" y="79.95" width="1.4" height="1.4" fill="#24365e" transform="rotate(45 295.7 80.65)"/>
<line x1="289.6" y1="85.08" x2="313" y2="85.08" stroke="#4a4f5a" stroke-width="0.42" />
<line x1="289.6" y1="84.58" x2="289.6" y2="85.58" stroke="#4a4f5a" stroke-width="0.3" />
<line x1="313" y1="84.58" x2="313" y2="85.58" stroke="#4a4f5a" stroke-width="0.3" />
<rect x="298.6" y="84.38" width="1.4" height="1.4" fill="#24365e" transform="rotate(45 299.3 85.08)"/>
<line x1="288.3" y1="89.51" x2="307.4" y2="89.51" stroke="#4a4f5a" stroke-width="0.42" />
<line x1="288.3" y1="89.01" x2="288.3" y2="90.01" stroke="#4a4f5a" stroke-width="0.3" />
<line x1="307.4" y1="89.01" x2="307.4" y2="90.01" stroke="#4a4f5a" stroke-width="0.3" />
<rect x="295.3" y="88.81" width="1.4" height="1.4" fill="#24365e" transform="rotate(45 296 89.51)"/>
<line x1="285" y1="93.94" x2="300" y2="93.94" stroke="#4a4f5a" stroke-width="0.42" />
<line x1="285" y1="93.44" x2="285" y2="94.44" stroke="#4a4f5a" stroke-width="0.3" />
<line x1="300" y1="93.44" x2="300" y2="94.44" stroke="#4a4f5a" stroke-width="0.3" />
<rect x="289.7" y="93.24" width="1.4" height="1.4" fill="#24365e" transform="rotate(45 290.4 93.94)"/>
<line x1="289.2" y1="98.37" x2="309.3" y2="98.37" stroke="#4a4f5a" stroke-width="0.42" />
<line x1="289.2" y1="97.87" x2="289.2" y2="98.87" stroke="#4a4f5a" stroke-width="0.3" />
<line x1="309.3" y1="97.87" x2="309.3" y2="98.87" stroke="#4a4f5a" stroke-width="0.3" />
<rect x="296.6" y="97.67" width="1.4" height="1.4" fill="#24365e" transform="rotate(45 297.3 98.37)"/>
<line x1="288.8" y1="102.8" x2="309" y2="102.8" stroke="#4a4f5a" stroke-width="0.42" />
<line x1="288.8" y1="102.3" x2="288.8" y2="103.3" stroke="#4a4f5a" stroke-width="0.3" />
<line x1="309" y1="102.3" x2="309" y2="103.3" stroke="#4a4f5a" stroke-width="0.3" />
<rect x="295.8" y="102.1" width="1.4" height="1.4" fill="#24365e" transform="rotate(45 296.5 102.8)"/>
<line x1="283.1" y1="107.23" x2="294.7" y2="107.23" stroke="#4a4f5a" stroke-width="0.42" />
<line x1="283.1" y1="106.73" x2="283.1" y2="107.73" stroke="#4a4f5a" stroke-width="0.3" />
<line x1="294.7" y1="106.73" x2="294.7" y2="107.73" stroke="#4a4f5a" stroke-width="0.3" />
<rect x="287.3" y="106.53" width="1.4" height="1.4" fill="#24365e" transform="rotate(45 288 107.23)"/>
<line x1="287.6" y1="111.66" x2="304.4" y2="111.66" stroke="#4a4f5a" stroke-width="0.42" />
<line x1="287.6" y1="111.16" x2="287.6" y2="112.16" stroke="#4a4f5a" stroke-width="0.3" />
<line x1="304.4" y1="111.16" x2="304.4" y2="112.16" stroke="#4a4f5a" stroke-width="0.3" />
<rect x="292.9" y="110.96" width="1.4" height="1.4" fill="#24365e" transform="rotate(45 293.6 111.66)"/>
<line x1="288" y1="116.09" x2="305.7" y2="116.09" stroke="#4a4f5a" stroke-width="0.42" />
<line x1="288" y1="115.59" x2="288" y2="116.59" stroke="#4a4f5a" stroke-width="0.3" />
<line x1="305.7" y1="115.59" x2="305.7" y2="116.59" stroke="#4a4f5a" stroke-width="0.3" />
<rect x="293.7" y="115.39" width="1.4" height="1.4" fill="#24365e" transform="rotate(45 294.4 116.09)"/>
<line x1="283.1" y1="120.52" x2="294.7" y2="120.52" stroke="#4a4f5a" stroke-width="0.42" />
<line x1="283.1" y1="120.02" x2="283.1" y2="121.02" stroke="#4a4f5a" stroke-width="0.3" />
<line x1="294.7" y1="120.02" x2="294.7" y2="121.02" stroke="#4a4f5a" stroke-width="0.3" />
<rect x="287.3" y="119.82" width="1.4" height="1.4" fill="#24365e" transform="rotate(45 288 120.52)"/>
<line x1="286.3" y1="124.95" x2="302.8" y2="124.95" stroke="#4a4f5a" stroke-width="0.42" />
<line x1="286.3" y1="124.45" x2="286.3" y2="125.45" stroke="#4a4f5a" stroke-width="0.3" />
<line x1="302.8" y1="124.45" x2="302.8" y2="125.45" stroke="#4a4f5a" stroke-width="0.3" />
<rect x="291.8" y="124.25" width="1.4" height="1.4" fill="#24365e" transform="rotate(45 292.5 124.95)"/>
<line x1="283.1" y1="129.38" x2="295.7" y2="129.38" stroke="#4a4f5a" stroke-width="0.42" />
<line x1="283.1" y1="128.88" x2="283.1" y2="129.88" stroke="#4a4f5a" stroke-width="0.3" />
<line x1="295.7" y1="128.88" x2="295.7" y2="129.88" stroke="#4a4f5a" stroke-width="0.3" />
<rect x="287.6" y="128.68" width="1.4" height="1.4" fill="#24365e" transform="rotate(45 288.3 129.38)"/>
<line x1="187" y1="131.6" x2="326" y2="131.6" stroke="#3a3a3a" stroke-width="0.7" />
<line x1="289.8" y1="131.5" x2="289.8" y2="132.8" stroke="#666" stroke-width="0.4" />
<text x="289.8" y="137.2" font-size="3.4" fill="#555" text-anchor="middle" font-weight="normal" >1</text>
<line x1="304.2" y1="131.5" x2="304.2" y2="132.8" stroke="#666" stroke-width="0.4" />
<text x="304.2" y="137.2" font-size="3.4" fill="#555" text-anchor="middle" font-weight="normal" >2</text>
<line x1="318.6" y1="131.5" x2="318.6" y2="132.8" stroke="#666" stroke-width="0.4" />
<text x="318.6" y="137.2" font-size="3.4" fill="#555" text-anchor="middle" font-weight="normal" >3</text>
<text x="46.2" y="148.8" font-size="6.0" fill="#111" text-anchor="middle" font-weight="bold" stroke="#111" stroke-width="0.2">EIF4A1</text>
<line x1="15.1" y1="157.7" x2="15.1" y2="206.1" stroke="#222" stroke-width="0.6" />
<line x1="13.9" y1="206.1" x2="15.1" y2="206.1" stroke="#222" stroke-width="0.5" />
<text x="13.5" y="207" font-size="2.6" fill="#333" text-anchor="end" font-weight="bold" >0</text>
<line x1="13.9" y1="196.42" x2="15.1" y2="196.42" stroke="#222" stroke-width="0.5" />
<text x="13.5" y="197.32" font-size="2.6" fill="#333" text-anchor="end" font-weight="bold" >1</text>
<line x1="13.9" y1="186.74" x2="15.1" y2="186.74" stroke="#222" stroke-width="0.5" />
<text x="13.5" y="187.64" font-size="2.6" fill="#333" text-anchor="end" font-weight="bold" >2</text>
<line x1="13.9" y1="177.06" x2="15.1" y2="177.06" stroke="#222" stroke-width="0.5" />
<text x="13.5" y="177.96" font-size="2.6" fill="#333" text-anchor="end" font-weight="bold" >3</text>
<line x1="13.9" y1="167.38" x2="15.1" y2="167.38" stroke="#222" stroke-width="0.5" />
<text x="13.5" y="168.28" font-size="2.6" fill="#333" text-anchor="end" font-weight="bold" >4</text>
<line x1="13.9" y1="157.7" x2="15.1" y2="157.7" stroke="#222" stroke-width="0.5" />
<text x="13.5" y="158.6" font-size="2.6" fill="#333" text-anchor="end" font-weight="bold" >5</text>
<text x="0" y="0" font-size="3.4" fill="#2a2a2a" font-weight="bold" stroke="#2a2a2a" stroke-width="0.08" text-anchor="middle" transform="translate(9.3,182.9) rotate(-90)">Relative mRNA expression</text>
<line x1="15.1" y1="206.1" x2="79.8" y2="206.1" stroke="#222" stroke-width="0.6" />
<line x1="21.6" y1="195.65" x2="21.6" y2="196.42" stroke="#333" stroke-width="0.45" />
<line x1="20.3" y1="195.65" x2="22.9" y2="195.65" stroke="#333" stroke-width="0.45" />
<rect x="18.45" y="196.42" width="6.3" height="9.68" fill="#6ec4dc" stroke="#2d4460" stroke-width="0.75" />
<line x1="21.6" y1="206.1" x2="21.6" y2="207.3" stroke="#222" stroke-width="0.5" />
<text x="0" y="0" font-size="3.0" fill="#222" font-weight="bold" text-anchor="end" transform="translate(22.4,211.1) rotate(-45)" stroke="#222" stroke-width="0.12">hFOB1.19</text>
<line x1="31.7" y1="163.51" x2="31.7" y2="164.77" stroke="#333" stroke-width="0.45" />
<line x1="30.4" y1="163.51" x2="33" y2="163.51" stroke="#333" stroke-width="0.45" />
<rect x="28.55" y="164.77" width="6.3" height="41.33" fill="#e87467" stroke="#6e4642" stroke-width="0.75" />
<line x1="31.7" y1="206.1" x2="31.7" y2="207.3" stroke="#222" stroke-width="0.5" />
<text x="0" y="0" font-size="3.0" fill="#222" font-weight="bold" text-anchor="end" transform="translate(32.5,211.1) rotate(-45)" stroke="#222" stroke-width="0.12">143B</text>
<line x1="41.9" y1="195.65" x2="41.9" y2="196.42" stroke="#333" stroke-width="0.45" />
<line x1="40.6" y1="195.65" x2="43.2" y2="195.65" stroke="#333" stroke-width="0.45" />
<rect x="38.75" y="196.42" width="6.3" height="9.68" fill="#4cb892" stroke="#2a4f48" stroke-width="0.75" />
<line x1="41.9" y1="206.1" x2="41.9" y2="207.3" stroke="#222" stroke-width="0.5" />
<text x="0" y="0" font-size="3.0" fill="#222" font-weight="bold" text-anchor="end" transform="translate(42.7,211.1) rotate(-45)" stroke="#222" stroke-width="0.12">MG63</text>
<line x1="51.9" y1="176.58" x2="51.9" y2="178.03" stroke="#333" stroke-width="0.45" />
<line x1="50.6" y1="176.58" x2="53.2" y2="176.58" stroke="#333" stroke-width="0.45" />
<rect x="48.75" y="178.03" width="6.3" height="28.07" fill="#5a6a9e" stroke="#2f3a5a" stroke-width="0.75" />
<line x1="51.9" y1="206.1" x2="51.9" y2="207.3" stroke="#222" stroke-width="0.5" />
<text x="0" y="0" font-size="3.0" fill="#222" font-weight="bold" text-anchor="end" transform="translate(52.7,211.1) rotate(-45)" stroke="#222" stroke-width="0.12">MNNG</text>
<line x1="61.6" y1="195.94" x2="61.6" y2="196.42" stroke="#333" stroke-width="0.45" />
<line x1="60.3" y1="195.94" x2="62.9" y2="195.94" stroke="#333" stroke-width="0.45" />
<rect x="58.45" y="196.42" width="6.3" height="9.68" fill="#f0a898" stroke="#6e5048" stroke-width="0.75" />
<line x1="61.6" y1="206.1" x2="61.6" y2="207.3" stroke="#222" stroke-width="0.5" />
<text x="0" y="0" font-size="3.0" fill="#222" font-weight="bold" text-anchor="end" transform="translate(62.4,211.1) rotate(-45)" stroke="#222" stroke-width="0.12">HOS-1</text>
<line x1="72.4" y1="175.12" x2="72.4" y2="176.09" stroke="#333" stroke-width="0.45" />
<line x1="71.1" y1="175.12" x2="73.7" y2="175.12" stroke="#333" stroke-width="0.45" />
<rect x="69.25" y="176.09" width="6.3" height="30.01" fill="#6a9ac8" stroke="#34496a" stroke-width="0.75" />
<line x1="72.4" y1="206.1" x2="72.4" y2="207.3" stroke="#222" stroke-width="0.5" />
<text x="0" y="0" font-size="3.0" fill="#222" font-weight="bold" text-anchor="end" transform="translate(73.2,211.1) rotate(-45)" stroke="#222" stroke-width="0.12">U2OS</text>
<polyline points="21.6,194.15 21.6,158.3 31.7,158.3 31.7,162.01" fill="none" stroke="#8a8a8a" stroke-width="0.45" />
<circle cx="24.35" cy="155.5" r="0.95" fill="#1a1a1a"/>
<circle cx="26.85" cy="155.5" r="0.95" fill="#1a1a1a"/>
<circle cx="29.35" cy="155.5" r="0.95" fill="#1a1a1a"/>
<polyline points="41.9,194.15 41.9,158.3 51.9,158.3 51.9,175.08" fill="none" stroke="#8a8a8a" stroke-width="0.45" />
<circle cx="44.6" cy="155.5" r="0.95" fill="#1a1a1a"/>
<circle cx="47.1" cy="155.5" r="0.95" fill="#1a1a1a"/>
<circle cx="49.6" cy="155.5" r="0.95" fill="#1a1a1a"/>
<polyline points="61.6,194.44 61.6,158.3 72.4,158.3 72.4,173.62" fill="none" stroke="#8a8a8a" stroke-width="0.45" />
<circle cx="64.7" cy="155.5" r="0.95" fill="#1a1a1a"/>
<circle cx="67.2" cy="155.5" r="0.95" fill="#1a1a1a"/>
<circle cx="69.7" cy="155.5" r="0.95" fill="#1a1a1a"/>
<text x="133.8" y="148.8" font-size="6.0" fill="#111" text-anchor="middle" font-weight="bold" stroke="#111" stroke-width="0.2">EIF4G3</text>
<line x1="101.6" y1="157.8" x2="101.6" y2="206.2" stroke="#222" stroke-width="0.6" />
<line x1="100.4" y1="206.2" x2="101.6" y2="206.2" stroke="#222" stroke-width="0.5" />
<text x="100" y="207.1" font-size="2.6" fill="#333" text-anchor="end" font-weight="bold" >0</text>
<line x1="100.4" y1="194.1" x2="101.6" y2="194.1" stroke="#222" stroke-width="0.5" />
<text x="100" y="195" font-size="2.6" fill="#333" text-anchor="end" font-weight="bold" >1</text>
<line x1="100.4" y1="182" x2="101.6" y2="182" stroke="#222" stroke-width="0.5" />
<text x="100" y="182.9" font-size="2.6" fill="#333" text-anchor="end" font-weight="bold" >2</text>
<line x1="100.4" y1="169.9" x2="101.6" y2="169.9" stroke="#222" stroke-width="0.5" />
<text x="100" y="170.8" font-size="2.6" fill="#333" text-anchor="end" font-weight="bold" >3</text>
<line x1="100.4" y1="157.8" x2="101.6" y2="157.8" stroke="#222" stroke-width="0.5" />
<text x="100" y="158.7" font-size="2.6" fill="#333" text-anchor="end" font-weight="bold" >4</text>
<text x="0" y="0" font-size="3.4" fill="#2a2a2a" font-weight="bold" stroke="#2a2a2a" stroke-width="0.08" text-anchor="middle" transform="translate(95.8,183) rotate(-90)">Relative mRNA expression</text>
<line x1="101.6" y1="206.2" x2="166" y2="206.2" stroke="#222" stroke-width="0.6" />
<line x1="108.4" y1="193.13" x2="108.4" y2="194.1" stroke="#333" stroke-width="0.45" />
<line x1="107.1" y1="193.13" x2="109.7" y2="193.13" stroke="#333" stroke-width="0.45" />
<rect x="105.4" y="194.1" width="6" height="12.1" fill="#6ec4dc" stroke="#2d4460" stroke-width="0.75" />
<line x1="108.4" y1="206.2" x2="108.4" y2="207.4" stroke="#222" stroke-width="0.5" />
<text x="0" y="0" font-size="3.0" fill="#222" font-weight="bold" text-anchor="end" transform="translate(109.2,211.2) rotate(-45)" stroke="#222" stroke-width="0.12">hFOB1.19</text>
<line x1="118.5" y1="163.61" x2="118.5" y2="166.03" stroke="#333" stroke-width="0.45" />
<line x1="117.2" y1="163.61" x2="119.8" y2="163.61" stroke="#333" stroke-width="0.45" />
<rect x="115.5" y="166.03" width="6" height="40.17" fill="#e87467" stroke="#6e4642" stroke-width="0.75" />
<line x1="118.5" y1="206.2" x2="118.5" y2="207.4" stroke="#222" stroke-width="0.5" />
<text x="0" y="0" font-size="3.0" fill="#222" font-weight="bold" text-anchor="end" transform="translate(119.3,211.2) rotate(-45)" stroke="#222" stroke-width="0.12">143B</text>
<line x1="129" y1="193.5" x2="129" y2="194.1" stroke="#333" stroke-width="0.45" />
<line x1="127.7" y1="193.5" x2="130.3" y2="193.5" stroke="#333" stroke-width="0.45" />
<rect x="126" y="194.1" width="6" height="12.1" fill="#4cb892" stroke="#2a4f48" stroke-width="0.75" />
<line x1="129" y1="206.2" x2="129" y2="207.4" stroke="#222" stroke-width="0.5" />
<text x="0" y="0" font-size="3.0" fill="#222" font-weight="bold" text-anchor="end" transform="translate(129.8,211.2) rotate(-45)" stroke="#222" stroke-width="0.12">MG63</text>
<line x1="139.1" y1="167.48" x2="139.1" y2="169.3" stroke="#333" stroke-width="0.45" />
<line x1="137.8" y1="167.48" x2="140.4" y2="167.48" stroke="#333" stroke-width="0.45" />
<rect x="136.1" y="169.3" width="6" height="36.9" fill="#5a6a9e" stroke="#2f3a5a" stroke-width="0.75" />
<line x1="139.1" y1="206.2" x2="139.1" y2="207.4" stroke="#222" stroke-width="0.5" />
<text x="0" y="0" font-size="3.0" fill="#222" font-weight="bold" text-anchor="end" transform="translate(139.9,211.2) rotate(-45)" stroke="#222" stroke-width="0.12">MNNG</text>
<line x1="149.1" y1="193.62" x2="149.1" y2="194.1" stroke="#333" stroke-width="0.45" />
<line x1="147.8" y1="193.62" x2="150.4" y2="193.62" stroke="#333" stroke-width="0.45" />
<rect x="146.1" y="194.1" width="6" height="12.1" fill="#f0a898" stroke="#6e5048" stroke-width="0.75" />
<line x1="149.1" y1="206.2" x2="149.1" y2="207.4" stroke="#222" stroke-width="0.5" />
<text x="0" y="0" font-size="3.0" fill="#222" font-weight="bold" text-anchor="end" transform="translate(149.9,211.2) rotate(-45)" stroke="#222" stroke-width="0.12">HOS-1</text>
<line x1="159.6" y1="179.58" x2="159.6" y2="181.4" stroke="#333" stroke-width="0.45" />
<line x1="158.3" y1="179.58" x2="160.9" y2="179.58" stroke="#333" stroke-width="0.45" />
<rect x="156.6" y="181.4" width="6" height="24.8" fill="#6a9ac8" stroke="#34496a" stroke-width="0.75" />
<line x1="159.6" y1="206.2" x2="159.6" y2="207.4" stroke="#222" stroke-width="0.5" />
<text x="0" y="0" font-size="3.0" fill="#222" font-weight="bold" text-anchor="end" transform="translate(160.4,211.2) rotate(-45)" stroke="#222" stroke-width="0.12">U2OS</text>
<polyline points="108.4,191.63 108.4,158.4 118.5,158.4 118.5,162.11" fill="none" stroke="#8a8a8a" stroke-width="0.45" />
<circle cx="111.15" cy="155.6" r="0.95" fill="#1a1a1a"/>
<circle cx="113.65" cy="155.6" r="0.95" fill="#1a1a1a"/>
<circle cx="116.15" cy="155.6" r="0.95" fill="#1a1a1a"/>
<polyline points="129,192 129,158.4 139.1,158.4 139.1,165.98" fill="none" stroke="#8a8a8a" stroke-width="0.45" />
<circle cx="131.75" cy="155.6" r="0.95" fill="#1a1a1a"/>
<circle cx="134.25" cy="155.6" r="0.95" fill="#1a1a1a"/>
<circle cx="136.75" cy="155.6" r="0.95" fill="#1a1a1a"/>
<polyline points="149.1,192.12 149.1,158.4 159.6,158.4 159.6,178.08" fill="none" stroke="#8a8a8a" stroke-width="0.45" />
<circle cx="152.05" cy="155.6" r="0.95" fill="#1a1a1a"/>
<circle cx="154.55" cy="155.6" r="0.95" fill="#1a1a1a"/>
<circle cx="157.05" cy="155.6" r="0.95" fill="#1a1a1a"/>
<text x="218.2" y="148.8" font-size="6.0" fill="#111" text-anchor="middle" font-weight="bold" stroke="#111" stroke-width="0.2">NCBP1</text>
<line x1="185.6" y1="158.1" x2="185.6" y2="206.4" stroke="#222" stroke-width="0.6" />
<line x1="184.4" y1="206.4" x2="185.6" y2="206.4" stroke="#222" stroke-width="0.5" />
<text x="184" y="207.3" font-size="2.6" fill="#333" text-anchor="end" font-weight="bold" >0</text>
<line x1="184.4" y1="194.32" x2="185.6" y2="194.32" stroke="#222" stroke-width="0.5" />
<text x="184" y="195.22" font-size="2.6" fill="#333" text-anchor="end" font-weight="bold" >1</text>
<line x1="184.4" y1="182.25" x2="185.6" y2="182.25" stroke="#222" stroke-width="0.5" />
<text x="184" y="183.15" font-size="2.6" fill="#333" text-anchor="end" font-weight="bold" >2</text>
<line x1="184.4" y1="170.18" x2="185.6" y2="170.18" stroke="#222" stroke-width="0.5" />
<text x="184" y="171.08" font-size="2.6" fill="#333" text-anchor="end" font-weight="bold" >3</text>
<line x1="184.4" y1="158.1" x2="185.6" y2="158.1" stroke="#222" stroke-width="0.5" />
<text x="184" y="159" font-size="2.6" fill="#333" text-anchor="end" font-weight="bold" >4</text>
<text x="0" y="0" font-size="3.4" fill="#2a2a2a" font-weight="bold" stroke="#2a2a2a" stroke-width="0.08" text-anchor="middle" transform="translate(179.8,183.25) rotate(-90)">Relative mRNA expression</text>
<line x1="185.6" y1="206.4" x2="252" y2="206.4" stroke="#222" stroke-width="0.6" />
<line x1="194.8" y1="193.72" x2="194.8" y2="194.32" stroke="#333" stroke-width="0.45" />
<line x1="193.5" y1="193.72" x2="196.1" y2="193.72" stroke="#333" stroke-width="0.45" />
<rect x="191.9" y="194.32" width="5.8" height="12.08" fill="#6ec4dc" stroke="#2d4460" stroke-width="0.75" />
<line x1="194.8" y1="206.4" x2="194.8" y2="207.6" stroke="#222" stroke-width="0.5" />
<text x="0" y="0" font-size="3.0" fill="#222" font-weight="bold" text-anchor="end" transform="translate(195.6,211.4) rotate(-45)" stroke="#222" stroke-width="0.12">hFOB1.19</text>
<line x1="204.8" y1="167.4" x2="204.8" y2="168" stroke="#333" stroke-width="0.45" />
<line x1="203.5" y1="167.4" x2="206.1" y2="167.4" stroke="#333" stroke-width="0.45" />
<rect x="201.9" y="168" width="5.8" height="38.4" fill="#e87467" stroke="#6e4642" stroke-width="0.75" />
<line x1="204.8" y1="206.4" x2="204.8" y2="207.6" stroke="#222" stroke-width="0.5" />
<text x="0" y="0" font-size="3.0" fill="#222" font-weight="bold" text-anchor="end" transform="translate(205.6,211.4) rotate(-45)" stroke="#222" stroke-width="0.12">143B</text>
<line x1="215.2" y1="193.84" x2="215.2" y2="194.32" stroke="#333" stroke-width="0.45" />
<line x1="213.9" y1="193.84" x2="216.5" y2="193.84" stroke="#333" stroke-width="0.45" />
<rect x="212.3" y="194.32" width="5.8" height="12.08" fill="#4cb892" stroke="#2a4f48" stroke-width="0.75" />
<line x1="215.2" y1="206.4" x2="215.2" y2="207.6" stroke="#222" stroke-width="0.5" />
<text x="0" y="0" font-size="3.0" fill="#222" font-weight="bold" text-anchor="end" transform="translate(216,211.4) rotate(-45)" stroke="#222" stroke-width="0.12">MG63</text>
<line x1="225.3" y1="178.87" x2="225.3" y2="179.84" stroke="#333" stroke-width="0.45" />
<line x1="224" y1="178.87" x2="226.6" y2="178.87" stroke="#333" stroke-width="0.45" />
<rect x="222.4" y="179.84" width="5.8" height="26.56" fill="#5a6a9e" stroke="#2f3a5a" stroke-width="0.75" />
<line x1="225.3" y1="206.4" x2="225.3" y2="207.6" stroke="#222" stroke-width="0.5" />
<text x="0" y="0" font-size="3.0" fill="#222" font-weight="bold" text-anchor="end" transform="translate(226.1,211.4) rotate(-45)" stroke="#222" stroke-width="0.12">MNNG</text>
<line x1="235.3" y1="193.84" x2="235.3" y2="194.32" stroke="#333" stroke-width="0.45" />
<line x1="234" y1="193.84" x2="236.6" y2="193.84" stroke="#333" stroke-width="0.45" />
<rect x="232.4" y="194.32" width="5.8" height="12.08" fill="#f0a898" stroke="#6e5048" stroke-width="0.75" />
<line x1="235.3" y1="206.4" x2="235.3" y2="207.6" stroke="#222" stroke-width="0.5" />
<text x="0" y="0" font-size="3.0" fill="#222" font-weight="bold" text-anchor="end" transform="translate(236.1,211.4) rotate(-45)" stroke="#222" stroke-width="0.12">HOS-1</text>
<line x1="245.5" y1="182.13" x2="245.5" y2="182.85" stroke="#333" stroke-width="0.45" />
<line x1="244.2" y1="182.13" x2="246.8" y2="182.13" stroke="#333" stroke-width="0.45" />
<rect x="242.6" y="182.85" width="5.8" height="23.55" fill="#6a9ac8" stroke="#34496a" stroke-width="0.75" />
<line x1="245.5" y1="206.4" x2="245.5" y2="207.6" stroke="#222" stroke-width="0.5" />
<text x="0" y="0" font-size="3.0" fill="#222" font-weight="bold" text-anchor="end" transform="translate(246.3,211.4) rotate(-45)" stroke="#222" stroke-width="0.12">U2OS</text>
<polyline points="194.8,192.22 194.8,158.7 204.8,158.7 204.8,165.9" fill="none" stroke="#8a8a8a" stroke-width="0.45" />
<circle cx="197.5" cy="155.9" r="0.95" fill="#1a1a1a"/>
<circle cx="200" cy="155.9" r="0.95" fill="#1a1a1a"/>
<circle cx="202.5" cy="155.9" r="0.95" fill="#1a1a1a"/>
<polyline points="215.2,192.34 215.2,158.7 225.3,158.7 225.3,177.37" fill="none" stroke="#8a8a8a" stroke-width="0.45" />
<circle cx="217.95" cy="155.9" r="0.95" fill="#1a1a1a"/>
<circle cx="220.45" cy="155.9" r="0.95" fill="#1a1a1a"/>
<circle cx="222.95" cy="155.9" r="0.95" fill="#1a1a1a"/>
<polyline points="235.3,192.34 235.3,158.7 245.5,158.7 245.5,180.63" fill="none" stroke="#8a8a8a" stroke-width="0.45" />
<circle cx="238.1" cy="155.9" r="0.95" fill="#1a1a1a"/>
<circle cx="240.6" cy="155.9" r="0.95" fill="#1a1a1a"/>
<circle cx="243.1" cy="155.9" r="0.95" fill="#1a1a1a"/>
<text x="304.6" y="148.8" font-size="6.0" fill="#111" text-anchor="middle" font-weight="bold" stroke="#111" stroke-width="0.2">WDR4</text>
<line x1="274.8" y1="157.6" x2="274.8" y2="206.4" stroke="#222" stroke-width="0.6" />
<line x1="273.6" y1="206.4" x2="274.8" y2="206.4" stroke="#222" stroke-width="0.5" />
<text x="273.2" y="207.3" font-size="2.6" fill="#333" text-anchor="end" font-weight="bold" >0</text>
<line x1="273.6" y1="196.64" x2="274.8" y2="196.64" stroke="#222" stroke-width="0.5" />
<text x="273.2" y="197.54" font-size="2.6" fill="#333" text-anchor="end" font-weight="bold" >1</text>
<line x1="273.6" y1="186.88" x2="274.8" y2="186.88" stroke="#222" stroke-width="0.5" />
<text x="273.2" y="187.78" font-size="2.6" fill="#333" text-anchor="end" font-weight="bold" >2</text>
<line x1="273.6" y1="177.12" x2="274.8" y2="177.12" stroke="#222" stroke-width="0.5" />
<text x="273.2" y="178.02" font-size="2.6" fill="#333" text-anchor="end" font-weight="bold" >3</text>
<line x1="273.6" y1="167.36" x2="274.8" y2="167.36" stroke="#222" stroke-width="0.5" />
<text x="273.2" y="168.26" font-size="2.6" fill="#333" text-anchor="end" font-weight="bold" >4</text>
<line x1="273.6" y1="157.6" x2="274.8" y2="157.6" stroke="#222" stroke-width="0.5" />
<text x="273.2" y="158.5" font-size="2.6" fill="#333" text-anchor="end" font-weight="bold" >5</text>
<text x="0" y="0" font-size="3.4" fill="#2a2a2a" font-weight="bold" stroke="#2a2a2a" stroke-width="0.08" text-anchor="middle" transform="translate(269,183) rotate(-90)">Relative mRNA expression</text>
<line x1="274.8" y1="206.4" x2="338" y2="206.4" stroke="#222" stroke-width="0.6" />
<line x1="281.5" y1="196.05" x2="281.5" y2="196.64" stroke="#333" stroke-width="0.45" />
<line x1="280.2" y1="196.05" x2="282.8" y2="196.05" stroke="#333" stroke-width="0.45" />
<rect x="278.6" y="196.64" width="5.8" height="9.76" fill="#6ec4dc" stroke="#2d4460" stroke-width="0.75" />
<line x1="281.5" y1="206.4" x2="281.5" y2="207.6" stroke="#222" stroke-width="0.5" />
<text x="0" y="0" font-size="3.0" fill="#222" font-weight="bold" text-anchor="end" transform="translate(282.3,211.4) rotate(-45)" stroke="#222" stroke-width="0.12">hFOB1.19</text>
<line x1="291.5" y1="162.97" x2="291.5" y2="163.94" stroke="#333" stroke-width="0.45" />
<line x1="290.2" y1="162.97" x2="292.8" y2="162.97" stroke="#333" stroke-width="0.45" />
<rect x="288.6" y="163.94" width="5.8" height="42.46" fill="#e87467" stroke="#6e4642" stroke-width="0.75" />
<line x1="291.5" y1="206.4" x2="291.5" y2="207.6" stroke="#222" stroke-width="0.5" />
<text x="0" y="0" font-size="3.0" fill="#222" font-weight="bold" text-anchor="end" transform="translate(292.3,211.4) rotate(-45)" stroke="#222" stroke-width="0.12">143B</text>
<line x1="301.5" y1="196.15" x2="301.5" y2="196.64" stroke="#333" stroke-width="0.45" />
<line x1="300.2" y1="196.15" x2="302.8" y2="196.15" stroke="#333" stroke-width="0.45" />
<rect x="298.6" y="196.64" width="5.8" height="9.76" fill="#4cb892" stroke="#2a4f48" stroke-width="0.75" />
<line x1="301.5" y1="206.4" x2="301.5" y2="207.6" stroke="#222" stroke-width="0.5" />
<text x="0" y="0" font-size="3.0" fill="#222" font-weight="bold" text-anchor="end" transform="translate(302.3,211.4) rotate(-45)" stroke="#222" stroke-width="0.12">MG63</text>
<line x1="311.5" y1="177.51" x2="311.5" y2="178.1" stroke="#333" stroke-width="0.45" />
<line x1="310.2" y1="177.51" x2="312.8" y2="177.51" stroke="#333" stroke-width="0.45" />
<rect x="308.6" y="178.1" width="5.8" height="28.3" fill="#5a6a9e" stroke="#2f3a5a" stroke-width="0.75" />
<line x1="311.5" y1="206.4" x2="311.5" y2="207.6" stroke="#222" stroke-width="0.5" />
<text x="0" y="0" font-size="3.0" fill="#222" font-weight="bold" text-anchor="end" transform="translate(312.3,211.4) rotate(-45)" stroke="#222" stroke-width="0.12">MNNG</text>
<line x1="321.5" y1="196.25" x2="321.5" y2="196.64" stroke="#333" stroke-width="0.45" />
<line x1="320.2" y1="196.25" x2="322.8" y2="196.25" stroke="#333" stroke-width="0.45" />
<rect x="318.6" y="196.64" width="5.8" height="9.76" fill="#f0a898" stroke="#6e5048" stroke-width="0.75" />
<line x1="321.5" y1="206.4" x2="321.5" y2="207.6" stroke="#222" stroke-width="0.5" />
<text x="0" y="0" font-size="3.0" fill="#222" font-weight="bold" text-anchor="end" transform="translate(322.3,211.4) rotate(-45)" stroke="#222" stroke-width="0.12">HOS-1</text>
<line x1="332" y1="169.51" x2="332" y2="170.09" stroke="#333" stroke-width="0.45" />
<line x1="330.7" y1="169.51" x2="333.3" y2="169.51" stroke="#333" stroke-width="0.45" />
<rect x="329.1" y="170.09" width="5.8" height="36.31" fill="#6a9ac8" stroke="#34496a" stroke-width="0.75" />
<line x1="332" y1="206.4" x2="332" y2="207.6" stroke="#222" stroke-width="0.5" />
<text x="0" y="0" font-size="3.0" fill="#222" font-weight="bold" text-anchor="end" transform="translate(332.8,211.4) rotate(-45)" stroke="#222" stroke-width="0.12">U2OS</text>
<polyline points="281.5,194.55 281.5,158.2 291.5,158.2 291.5,161.47" fill="none" stroke="#8a8a8a" stroke-width="0.45" />
<circle cx="284.2" cy="155.4" r="0.95" fill="#1a1a1a"/>
<circle cx="286.7" cy="155.4" r="0.95" fill="#1a1a1a"/>
<circle cx="289.2" cy="155.4" r="0.95" fill="#1a1a1a"/>
<polyline points="301.5,194.65 301.5,158.2 311.5,158.2 311.5,176.01" fill="none" stroke="#8a8a8a" stroke-width="0.45" />
<circle cx="304.2" cy="155.4" r="0.95" fill="#1a1a1a"/>
<circle cx="306.7" cy="155.4" r="0.95" fill="#1a1a1a"/>
<circle cx="309.2" cy="155.4" r="0.95" fill="#1a1a1a"/>
<polyline points="321.5,194.75 321.5,158.2 332,158.2 332,168.01" fill="none" stroke="#8a8a8a" stroke-width="0.45" />
<circle cx="324.45" cy="155.4" r="0.95" fill="#1a1a1a"/>
<circle cx="326.95" cy="155.4" r="0.95" fill="#1a1a1a"/>
<circle cx="329.45" cy="155.4" r="0.95" fill="#1a1a1a"/>
<text x="52" y="233.1" font-size="6.1" fill="#111" text-anchor="middle" font-weight="bold" stroke="#111" stroke-width="0.3">EIF4A1</text>
<line x1="23.2" y1="238.6" x2="24.2" y2="238.6" stroke="#555" stroke-width="0.35" />
<text x="22.7" y="239.2" font-size="1.8" fill="#666" text-anchor="end" font-weight="normal" >1.00</text>
<line x1="23.2" y1="252.28" x2="24.2" y2="252.28" stroke="#555" stroke-width="0.35" />
<text x="22.7" y="252.88" font-size="1.8" fill="#666" text-anchor="end" font-weight="normal" >0.75</text>
<line x1="23.2" y1="265.95" x2="24.2" y2="265.95" stroke="#555" stroke-width="0.35" />
<text x="22.7" y="266.55" font-size="1.8" fill="#666" text-anchor="end" font-weight="normal" >0.50</text>
<line x1="23.2" y1="279.62" x2="24.2" y2="279.62" stroke="#555" stroke-width="0.35" />
<text x="22.7" y="280.23" font-size="1.8" fill="#666" text-anchor="end" font-weight="normal" >0.25</text>
<line x1="23.2" y1="293.3" x2="24.2" y2="293.3" stroke="#555" stroke-width="0.35" />
<text x="22.7" y="293.9" font-size="1.8" fill="#666" text-anchor="end" font-weight="normal" >0.00</text>
<text x="0" y="0" font-size="2.7" fill="#777" text-anchor="middle" transform="translate(6,265.95) rotate(-90)">Survival probability</text>
<polyline points="26.6,238.6 28.15,238.6 28.15,239.9 29.44,239.9 29.44,241 31.46,241 31.46,242.7 32.65,242.7 32.65,243.7 34.5,243.7 34.5,245.52 36.1,245.52 36.1,247.15 37.27,247.15 37.27,248.33 39.08,248.33 39.08,250.16 40.21,250.16 40.21,251.31 41.92,251.31 41.92,252.44 43.1,252.44 43.1,253.23 44.31,253.23 44.31,254.04 46,254.04 46,255.1 48.27,255.1 48.27,256.47 49.53,256.47 49.53,257.23 50.3,257.23 50.3,257.7 50.3,258.7 74,258.7" fill="none" stroke="#62bcd6" stroke-width="0.6" stroke-dasharray="2.4,1.8"/>
<polyline points="26.6,238.6 28.01,238.6 28.01,242.24 30.47,242.24 30.47,248.63 31.73,248.63 31.73,251.03 33.83,251.03 33.83,253.96 35.03,253.96 35.03,255.64 36.47,255.64 36.47,257.43 38.99,257.43 38.99,259.74 40.37,259.74 40.37,261 42.37,261 42.37,262.68 44.11,262.68 44.11,263.52 45.85,263.52 45.85,264.35 47.64,264.35 47.64,265.22 49,265.22 49,265.87 50.3,265.87 50.3,266.5 50.3,267 52,267" fill="none" stroke="#62bcd6" stroke-width="0.6" stroke-dasharray="2.4,1.8"/>
<polyline points="26.6,238.6 28.35,238.6 28.35,241.14 29.96,241.14 29.96,243.49 31.24,243.49 31.24,245.34 33.57,245.34 33.57,248.6 34.66,248.6 34.66,250.13 36.46,250.13 36.46,252.65 38.84,252.65 38.84,255.97 40.03,255.97 40.03,257.65 41.91,257.65 41.91,259.91 43.88,259.91 43.88,261.88 45.02,261.88 45.02,263.02 46.65,263.02 46.65,264.63 48.74,264.63 48.74,266.67 50.3,266.67 50.3,268.2 50.3,268.2 78,268.2" fill="none" stroke="#e8906a" stroke-width="0.6" stroke-dasharray="2.4,1.8"/>
<polyline points="26.6,238.6 28.5,238.6 28.5,251.38 30.2,251.38 30.2,256.05 32.11,256.05 32.11,261.2 33.49,261.2 33.49,263.68 35.74,263.68 35.74,267.73 38.01,267.73 38.01,271.01 40.03,271.01 40.03,273.03 41.34,273.03 41.34,274.34 43.17,274.34 43.17,276.15 44.72,276.15 44.72,277.56 46.16,277.56 46.16,278.86 48.61,278.86 48.61,281.07 50.3,281.07 50.3,282.6 50.3,282.8 78.6,282.8" fill="none" stroke="#e8906a" stroke-width="0.6" stroke-dasharray="2.4,1.8"/>
<line x1="26.6" y1="265.95" x2="50.3" y2="265.95" stroke="#222" stroke-width="0.85" stroke-dasharray="2.4,1.5"/>
<line x1="40.3" y1="265.95" x2="40.3" y2="293.3" stroke="#222" stroke-width="0.85" stroke-dasharray="2.4,1.5"/>
<line x1="50.2" y1="265.95" x2="50.2" y2="293.3" stroke="#222" stroke-width="0.85" stroke-dasharray="2.4,1.5"/>
<polyline points="26.6,238.6 27.94,238.6 27.94,242.65 29.1,242.65 29.1,246.16 30.66,246.16 30.66,250.87 31.89,250.87 31.89,253.75 33,253.75 33,255.93 34.57,255.93 34.57,258.57 36.84,258.57 36.84,261.52 38.94,261.52 38.94,264.27 41.01,264.27 41.01,267.1 42.33,267.1 42.33,269.06 44.08,269.06 44.08,271.52 45.47,271.52 45.47,272.43 46.73,272.43 46.73,273.25 47.89,273.25 47.89,274.01 49.2,274.01 49.2,274.87 49.4,276.9 78.6,276.9" fill="none" stroke="#d23a2c" stroke-width="1.2" stroke-linejoin="miter"/>
<polyline points="26.6,238.6 28.18,238.6 28.18,240.85 30.25,240.85 30.25,243.79 32.04,243.79 32.04,246.34 34.21,246.34 34.21,249.1 36.41,249.1 36.41,251.65 37.72,251.65 37.72,253.16 38.94,253.16 38.94,254.58 41.48,254.58 41.48,256.53 43.09,256.53 43.09,257.67 44.67,257.67 44.67,258.77 47.46,258.77 47.46,260.92 49.41,260.92 49.41,262.49 50.3,262.49 50.3,263.2 50.3,268.1 74,268.1" fill="none" stroke="#45a5b8" stroke-width="1.05" stroke-linejoin="miter"/>
<rect x="24.2" y="236.2" width="57.3" height="59" fill="none" stroke="#8a8a8a" stroke-width="0.5" />
<text x="53.35" y="238.8" font-size="2" fill="#444" text-anchor="middle" font-weight="normal" >Cox: HR=1.7(1.1-2.6)</text>
<text x="53.35" y="241.9" font-size="2" fill="#444" text-anchor="middle" font-weight="normal" >HR(logrank)=1.68</text>
<text x="53.35" y="245" font-size="2" fill="#444" text-anchor="middle" font-weight="normal" >p(log-rank)=0.01</text>
<rect x="67.5" y="240.5" width="2.5" height="1.2" fill="#d23a2c" stroke="none" stroke-width="0" />
<text x="70.6" y="241.8" font-size="2.3" fill="#666" text-anchor="start" font-weight="normal" >Clu=high</text>
<rect x="67.5" y="243.5" width="2.5" height="1.2" fill="#45a5b8" stroke="none" stroke-width="0" />
<text x="70.6" y="244.8" font-size="2.3" fill="#666" text-anchor="start" font-weight="normal" >Clu=low</text>
<text x="27.1" y="292.5" font-size="1.8" fill="#e07060" text-anchor="start" font-weight="normal" >Median time (months)</text>
<rect x="24.2" y="295.2" width="57.3" height="11.4" fill="none" stroke="#8a8a8a" stroke-width="0.45" />
<line x1="24.2" y1="295.2" x2="81.5" y2="295.2" stroke="#555" stroke-width="0.5" />
<line x1="26.6" y1="295.2" x2="26.6" y2="306.6" stroke="#aaa" stroke-width="0.3" stroke-dasharray="0.6,0.6"/>
<line x1="39.8" y1="295.2" x2="39.8" y2="306.6" stroke="#aaa" stroke-width="0.3" stroke-dasharray="0.6,0.6"/>
<line x1="53" y1="295.2" x2="53" y2="306.6" stroke="#aaa" stroke-width="0.3" stroke-dasharray="0.6,0.6"/>
<line x1="66.2" y1="295.2" x2="66.2" y2="306.6" stroke="#aaa" stroke-width="0.3" stroke-dasharray="0.6,0.6"/>
<line x1="79.4" y1="295.2" x2="79.4" y2="306.6" stroke="#aaa" stroke-width="0.3" stroke-dasharray="0.6,0.6"/>
<text x="23.3" y="299.6" font-size="2.2" fill="#555" text-anchor="end" font-weight="normal" >Clu=high</text>
<line x1="23.4" y1="298.9" x2="24.2" y2="298.9" stroke="#555" stroke-width="0.3" />
<text x="27.1" y="299.5" font-size="1.8" fill="#666" text-anchor="start" font-weight="normal" >78</text>
<text x="40.3" y="299.5" font-size="1.8" fill="#666" text-anchor="start" font-weight="normal" >30</text>
<text x="53.5" y="299.5" font-size="1.8" fill="#666" text-anchor="start" font-weight="normal" >8</text>
<text x="66.7" y="299.5" font-size="1.8" fill="#666" text-anchor="start" font-weight="normal" >2</text>
<text x="79.9" y="299.5" font-size="1.8" fill="#666" text-anchor="start" font-weight="normal" >0</text>
<text x="23.3" y="304.6" font-size="2.2" fill="#555" text-anchor="end" font-weight="normal" >Clu=low</text>
<line x1="23.4" y1="303.9" x2="24.2" y2="303.9" stroke="#555" stroke-width="0.3" />
<text x="27.1" y="304.5" font-size="1.8" fill="#666" text-anchor="start" font-weight="normal" >79</text>
<text x="40.3" y="304.5" font-size="1.8" fill="#666" text-anchor="start" font-weight="normal" >46</text>
<text x="53.5" y="304.5" font-size="1.8" fill="#666" text-anchor="start" font-weight="normal" >19</text>
<text x="66.7" y="304.5" font-size="1.8" fill="#666" text-anchor="start" font-weight="normal" >6</text>
<text x="79.9" y="304.5" font-size="1.8" fill="#666" text-anchor="start" font-weight="normal" >1</text>
<line x1="26.6" y1="306.6" x2="26.6" y2="307.8" stroke="#555" stroke-width="0.35" />
<line x1="39.8" y1="306.6" x2="39.8" y2="307.8" stroke="#555" stroke-width="0.35" />
<line x1="53" y1="306.6" x2="53" y2="307.8" stroke="#555" stroke-width="0.35" />
<line x1="66.2" y1="306.6" x2="66.2" y2="307.8" stroke="#555" stroke-width="0.35" />
<line x1="79.4" y1="306.6" x2="79.4" y2="307.8" stroke="#555" stroke-width="0.35" />
<text x="52.85" y="311" font-size="2" fill="#666" text-anchor="middle" font-weight="normal" >Time (months)</text>
<text x="139.1" y="233.1" font-size="6.1" fill="#111" text-anchor="middle" font-weight="bold" stroke="#111" stroke-width="0.3">EIF4G3</text>
<line x1="108.7" y1="239.1" x2="109.7" y2="239.1" stroke="#555" stroke-width="0.35" />
<text x="108.2" y="239.7" font-size="1.8" fill="#666" text-anchor="end" font-weight="normal" >1.00</text>
<line x1="108.7" y1="252.65" x2="109.7" y2="252.65" stroke="#555" stroke-width="0.35" />
<text x="108.2" y="253.25" font-size="1.8" fill="#666" text-anchor="end" font-weight="normal" >0.75</text>
<line x1="108.7" y1="266.2" x2="109.7" y2="266.2" stroke="#555" stroke-width="0.35" />
<text x="108.2" y="266.8" font-size="1.8" fill="#666" text-anchor="end" font-weight="normal" >0.50</text>
<line x1="108.7" y1="279.75" x2="109.7" y2="279.75" stroke="#555" stroke-width="0.35" />
<text x="108.2" y="280.35" font-size="1.8" fill="#666" text-anchor="end" font-weight="normal" >0.25</text>
<line x1="108.7" y1="293.3" x2="109.7" y2="293.3" stroke="#555" stroke-width="0.35" />
<text x="108.2" y="293.9" font-size="1.8" fill="#666" text-anchor="end" font-weight="normal" >0.00</text>
<text x="0" y="0" font-size="2.7" fill="#777" text-anchor="middle" transform="translate(91.5,266.2) rotate(-90)">Survival probability</text>
<polyline points="112.1,239.1 113.65,239.1 113.65,239.86 114.94,239.86 114.94,240.5 116.96,240.5 116.96,241.49 118.15,241.49 118.15,242.1 120,242.1 120,243.33 121.6,243.33 121.6,244.4 122.77,244.4 122.77,245.18 124.58,245.18 124.58,246.39 125.71,246.39 125.71,247.26 127.42,247.26 127.42,248.79 128.6,248.79 128.6,249.85 129.81,249.85 129.81,250.93 131.5,250.93 131.5,252.46 133.77,252.46 133.77,254.56 135.03,254.56 135.03,255.72 136.2,255.72 136.2,256.8 136.2,256.8 159,256.8" fill="none" stroke="#62bcd6" stroke-width="0.6" stroke-dasharray="2.4,1.8"/>
<polyline points="112.1,239.1 113.51,239.1 113.51,243.03 115.97,243.03 115.97,249.92 117.23,249.92 117.23,251.73 119.33,251.73 119.33,254.66 120.53,254.66 120.53,256.34 121.97,256.34 121.97,257.97 124.49,257.97 124.49,260.49 125.87,260.49 125.87,261.87 127.87,261.87 127.87,263.58 129.61,263.58 129.61,264.74 131.35,264.74 131.35,265.9 133.14,265.9 133.14,267.23 134.5,267.23 134.5,269.48 136.2,269.48 136.2,272.3 136.2,272.3 159,272.3" fill="none" stroke="#62bcd6" stroke-width="0.6" stroke-dasharray="2.4,1.8"/>
<polyline points="112.1,239.1 113.85,239.1 113.85,242.19 115.46,242.19 115.46,245.05 116.74,245.05 116.74,247.12 119.07,247.12 119.07,250.61 120.16,250.61 120.16,252.23 121.96,252.23 121.96,254.75 124.34,254.75 124.34,258.07 125.53,258.07 125.53,259.53 127.41,259.53 127.41,261.41 129.38,261.41 129.38,263.38 130.52,263.38 130.52,264.52 132.15,264.52 132.15,266.01 134.24,266.01 134.24,267.86 135.97,267.86 135.97,269.4 136.2,269.6 163.6,269.6" fill="none" stroke="#e8906a" stroke-width="0.6" stroke-dasharray="2.4,1.8"/>
<polyline points="112.1,239.1 114,239.1 114,255.68 115.7,255.68 115.7,261.9 117.61,261.9 117.61,266.23 118.99,266.23 118.99,268.98 121.24,268.98 121.24,272.45 123.51,272.45 123.51,275.09 125.53,275.09 125.53,277.45 126.84,277.45 126.84,278.79 128.67,278.79 128.67,280.53 130.22,280.53 130.22,281.99 131.6,281.99 131.6,283.3 131.6,283.3 163.6,283.3" fill="none" stroke="#e8906a" stroke-width="0.6" stroke-dasharray="2.4,1.8"/>
<line x1="112.1" y1="266.2" x2="136.2" y2="266.2" stroke="#222" stroke-width="0.85" stroke-dasharray="2.4,1.5"/>
<line x1="124.3" y1="266.2" x2="124.3" y2="293.3" stroke="#222" stroke-width="0.85" stroke-dasharray="2.4,1.5"/>
<line x1="136.2" y1="266.2" x2="136.2" y2="293.3" stroke="#222" stroke-width="0.85" stroke-dasharray="2.4,1.5"/>
<polyline points="112.1,239.1 113.44,239.1 113.44,243.21 114.6,243.21 114.6,246.77 116.16,246.77 116.16,251.1 117.39,251.1 117.39,254.31 118.5,254.31 118.5,257.04 120.07,257.04 120.07,260.61 122.34,260.61 122.34,264.65 124.44,264.65 124.44,266.23 126.51,266.23 126.51,269.06 127.83,269.06 127.83,271.34 129.58,271.34 129.58,274.35 130.97,274.35 130.97,276.73 131.6,276.73 131.6,277.8 131.6,277.8 163.6,277.8" fill="none" stroke="#d23a2c" stroke-width="1.2" stroke-linejoin="miter"/>
<polyline points="112.1,239.1 113.68,239.1 113.68,240.87 115.75,240.87 115.75,243.18 117.54,243.18 117.54,245.18 119.71,245.18 119.71,247.6 121.91,247.6 121.91,249.46 123.22,249.46 123.22,250.55 124.44,250.55 124.44,251.56 126.98,251.56 126.98,253.4 128.59,253.4 128.59,254.48 130.17,254.48 130.17,255.54 132.96,255.54 132.96,257 134.91,257 134.91,258.07 136.2,258.07 136.2,259 136.2,265.9 159,265.9" fill="none" stroke="#45a5b8" stroke-width="1.05" stroke-linejoin="miter"/>
<rect x="109.7" y="236.2" width="57.5" height="59" fill="none" stroke="#8a8a8a" stroke-width="0.5" />
<text x="138.95" y="238.8" font-size="2" fill="#444" text-anchor="middle" font-weight="normal" >Cox: HR=1.7(1.1-2.6)</text>
<text x="138.95" y="241.9" font-size="2" fill="#444" text-anchor="middle" font-weight="normal" >HR(logrank)=1.68</text>
<text x="138.95" y="245" font-size="2" fill="#444" text-anchor="middle" font-weight="normal" >p(log-rank)=0.01</text>
<rect x="153.2" y="240.5" width="2.5" height="1.2" fill="#d23a2c" stroke="none" stroke-width="0" />
<text x="156.3" y="241.8" font-size="2.3" fill="#666" text-anchor="start" font-weight="normal" >Clu=high</text>
<rect x="153.2" y="243.5" width="2.5" height="1.2" fill="#45a5b8" stroke="none" stroke-width="0" />
<text x="156.3" y="244.8" font-size="2.3" fill="#666" text-anchor="start" font-weight="normal" >Clu=low</text>
<text x="112.6" y="292.5" font-size="1.8" fill="#e07060" text-anchor="start" font-weight="normal" >Median time (months)</text>
<rect x="109.7" y="295.2" width="57.5" height="11.4" fill="none" stroke="#8a8a8a" stroke-width="0.45" />
<line x1="109.7" y1="295.2" x2="167.2" y2="295.2" stroke="#555" stroke-width="0.5" />
<line x1="112.1" y1="295.2" x2="112.1" y2="306.6" stroke="#aaa" stroke-width="0.3" stroke-dasharray="0.6,0.6"/>
<line x1="125.2" y1="295.2" x2="125.2" y2="306.6" stroke="#aaa" stroke-width="0.3" stroke-dasharray="0.6,0.6"/>
<line x1="138.4" y1="295.2" x2="138.4" y2="306.6" stroke="#aaa" stroke-width="0.3" stroke-dasharray="0.6,0.6"/>
<line x1="151.6" y1="295.2" x2="151.6" y2="306.6" stroke="#aaa" stroke-width="0.3" stroke-dasharray="0.6,0.6"/>
<line x1="164.8" y1="295.2" x2="164.8" y2="306.6" stroke="#aaa" stroke-width="0.3" stroke-dasharray="0.6,0.6"/>
<text x="108.8" y="299.6" font-size="2.2" fill="#555" text-anchor="end" font-weight="normal" >Clu=high</text>
<line x1="108.9" y1="298.9" x2="109.7" y2="298.9" stroke="#555" stroke-width="0.3" />
<text x="112.6" y="299.5" font-size="1.8" fill="#666" text-anchor="start" font-weight="normal" >78</text>
<text x="125.7" y="299.5" font-size="1.8" fill="#666" text-anchor="start" font-weight="normal" >30</text>
<text x="138.9" y="299.5" font-size="1.8" fill="#666" text-anchor="start" font-weight="normal" >8</text>
<text x="152.1" y="299.5" font-size="1.8" fill="#666" text-anchor="start" font-weight="normal" >2</text>
<text x="165.3" y="299.5" font-size="1.8" fill="#666" text-anchor="start" font-weight="normal" >0</text>
<text x="108.8" y="304.6" font-size="2.2" fill="#555" text-anchor="end" font-weight="normal" >Clu=low</text>
<line x1="108.9" y1="303.9" x2="109.7" y2="303.9" stroke="#555" stroke-width="0.3" />
<text x="112.6" y="304.5" font-size="1.8" fill="#666" text-anchor="start" font-weight="normal" >79</text>
<text x="125.7" y="304.5" font-size="1.8" fill="#666" text-anchor="start" font-weight="normal" >46</text>
<text x="138.9" y="304.5" font-size="1.8" fill="#666" text-anchor="start" font-weight="normal" >19</text>
<text x="152.1" y="304.5" font-size="1.8" fill="#666" text-anchor="start" font-weight="normal" >6</text>
<text x="165.3" y="304.5" font-size="1.8" fill="#666" text-anchor="start" font-weight="normal" >1</text>
<line x1="112.1" y1="306.6" x2="112.1" y2="307.8" stroke="#555" stroke-width="0.35" />
<line x1="125.2" y1="306.6" x2="125.2" y2="307.8" stroke="#555" stroke-width="0.35" />
<line x1="138.4" y1="306.6" x2="138.4" y2="307.8" stroke="#555" stroke-width="0.35" />
<line x1="151.6" y1="306.6" x2="151.6" y2="307.8" stroke="#555" stroke-width="0.35" />
<line x1="164.8" y1="306.6" x2="164.8" y2="307.8" stroke="#555" stroke-width="0.35" />
<text x="138.45" y="311" font-size="2" fill="#666" text-anchor="middle" font-weight="normal" >Time (months)</text>
<text x="222.4" y="233.1" font-size="6.1" fill="#111" text-anchor="middle" font-weight="bold" stroke="#111" stroke-width="0.3">NCBP1</text>
<line x1="192.8" y1="238.6" x2="193.8" y2="238.6" stroke="#555" stroke-width="0.35" />
<text x="192.3" y="239.2" font-size="1.8" fill="#666" text-anchor="end" font-weight="normal" >1.00</text>
<line x1="192.8" y1="252.28" x2="193.8" y2="252.28" stroke="#555" stroke-width="0.35" />
<text x="192.3" y="252.88" font-size="1.8" fill="#666" text-anchor="end" font-weight="normal" >0.75</text>
<line x1="192.8" y1="265.95" x2="193.8" y2="265.95" stroke="#555" stroke-width="0.35" />
<text x="192.3" y="266.55" font-size="1.8" fill="#666" text-anchor="end" font-weight="normal" >0.50</text>
<line x1="192.8" y1="279.62" x2="193.8" y2="279.62" stroke="#555" stroke-width="0.35" />
<text x="192.3" y="280.23" font-size="1.8" fill="#666" text-anchor="end" font-weight="normal" >0.25</text>
<line x1="192.8" y1="293.3" x2="193.8" y2="293.3" stroke="#555" stroke-width="0.35" />
<text x="192.3" y="293.9" font-size="1.8" fill="#666" text-anchor="end" font-weight="normal" >0.00</text>
<text x="0" y="0" font-size="2.7" fill="#777" text-anchor="middle" transform="translate(175.6,265.95) rotate(-90)">Survival probability</text>
<polyline points="196.6,238.6 198.15,238.6 198.15,239.66 199.44,239.66 199.44,240.55 201.46,240.55 201.46,241.94 202.65,241.94 202.65,242.76 204.5,242.76 204.5,244.28 206.1,244.28 206.1,245.66 207.27,245.66 207.27,246.66 209.08,246.66 209.08,248.21 210.21,248.21 210.21,249.21 211.92,249.21 211.92,250.92 213.1,250.92 213.1,252.1 214.31,252.1 214.31,253.31 216,253.31 216,254.84 218.27,254.84 218.27,256.75 219.4,256.75 219.4,257.7 219.4,257.7 247.7,257.7" fill="none" stroke="#62bcd6" stroke-width="0.6" stroke-dasharray="2.4,1.8"/>
<polyline points="196.6,238.6 198.01,238.6 198.01,243.32 200.47,243.32 200.47,250.76 201.73,250.76 201.73,252.77 203.83,252.77 203.83,256.13 205.03,256.13 205.03,258.03 206.47,258.03 206.47,259.47 208.99,259.47 208.99,261.99 210.37,261.99 210.37,263.37 212.37,263.37 212.37,265.1 214.11,265.1 214.11,266.49 215.85,266.49 215.85,267.88 217.64,267.88 217.64,270.07 219,270.07 219,271.79 219.4,271.79 219.4,272.3 219.4,272.3 247.7,272.3" fill="none" stroke="#62bcd6" stroke-width="0.6" stroke-dasharray="2.4,1.8"/>
<polyline points="196.6,238.6 198.35,238.6 198.35,241.32 199.96,241.32 199.96,243.83 201.24,243.83 201.24,245.82 203.57,245.82 203.57,249.2 204.66,249.2 204.66,250.73 206.46,250.73 206.46,253.25 208.84,253.25 208.84,256.21 210.03,256.21 210.03,257.64 211.91,257.64 211.91,259.9 213.88,259.9 213.88,261.88 215.02,261.88 215.02,263.02 216.65,263.02 216.65,264.65 218.74,264.65 218.74,266.74 220.47,266.74 220.47,268.47 221,268.47 221,269 221,269 229,269" fill="none" stroke="#e8906a" stroke-width="0.6" stroke-dasharray="2.4,1.8"/>
<polyline points="196.6,238.6 198.5,238.6 198.5,253.38 200.2,253.38 200.2,258.05 202.11,258.05 202.11,263.2 203.49,263.2 203.49,265.68 205.74,265.68 205.74,269.73 208.01,269.73 208.01,273.17 210.03,273.17 210.03,275.53 211.34,275.53 211.34,277.06 213.17,277.06 213.17,279.17 214.72,279.17 214.72,280.7 216.16,280.7 216.16,282.12 218.61,282.12 218.61,284.54 221,284.54 221,286.9 221,286.9 229.4,286.9" fill="none" stroke="#e8906a" stroke-width="0.6" stroke-dasharray="2.4,1.8"/>
<line x1="196.6" y1="265.95" x2="228" y2="265.95" stroke="#222" stroke-width="0.85" stroke-dasharray="2.4,1.5"/>
<line x1="212" y1="265.95" x2="212" y2="293.3" stroke="#222" stroke-width="0.85" stroke-dasharray="2.4,1.5"/>
<line x1="219.4" y1="265.95" x2="219.4" y2="293.3" stroke="#222" stroke-width="0.85" stroke-dasharray="2.4,1.5"/>
<polyline points="196.6,238.6 197.94,238.6 197.94,241.99 199.1,241.99 199.1,244.92 200.66,244.92 200.66,248.61 201.89,248.61 201.89,251.04 203,251.04 203,253.24 204.57,253.24 204.57,256.34 206.84,256.34 206.84,259.4 208.94,259.4 208.94,262.08 211.01,262.08 211.01,264.66 212.33,264.66 212.33,266.31 214.08,266.31 214.08,268.48 215.47,268.48 215.47,270.22 216.73,270.22 216.73,272.03 217.89,272.03 217.89,273.76 219.2,273.76 219.2,275.71 221.2,275.71 221.2,281.4 221.2,281.4 230.3,281.4" fill="none" stroke="#d23a2c" stroke-width="1.2" stroke-linejoin="miter"/>
<polyline points="196.6,238.6 198.18,238.6 198.18,241.07 200.25,241.07 200.25,244.31 202.04,244.31 202.04,247.11 204.21,247.11 204.21,249.84 206.41,249.84 206.41,252.09 207.72,252.09 207.72,253.56 208.94,253.56 208.94,255.59 211.48,255.59 211.48,258.12 213.09,258.12 213.09,258.65 214.67,258.65 214.67,259.16 217.46,259.16 217.46,260.83 219.4,260.83 219.4,262.3 219.4,265.9 247.7,265.9" fill="none" stroke="#45a5b8" stroke-width="1.05" stroke-linejoin="miter"/>
<rect x="193.8" y="236.2" width="57.7" height="59" fill="none" stroke="#8a8a8a" stroke-width="0.5" />
<text x="223.15" y="238.8" font-size="2" fill="#444" text-anchor="middle" font-weight="normal" >Cox: HR=1.7(1.1-2.6)</text>
<text x="223.15" y="241.9" font-size="2" fill="#444" text-anchor="middle" font-weight="normal" >HR(logrank)=1.68</text>
<text x="223.15" y="245" font-size="2" fill="#444" text-anchor="middle" font-weight="normal" >p(log-rank)=0.01</text>
<rect x="237.5" y="240.5" width="2.5" height="1.2" fill="#d23a2c" stroke="none" stroke-width="0" />
<text x="240.6" y="241.8" font-size="2.3" fill="#666" text-anchor="start" font-weight="normal" >Clu=high</text>
<rect x="237.5" y="243.5" width="2.5" height="1.2" fill="#45a5b8" stroke="none" stroke-width="0" />
<text x="240.6" y="244.8" font-size="2.3" fill="#666" text-anchor="start" font-weight="normal" >Clu=low</text>
<text x="197.1" y="292.5" font-size="1.8" fill="#e07060" text-anchor="start" font-weight="normal" >Median time (months)</text>
<rect x="193.8" y="295.2" width="57.7" height="11.4" fill="none" stroke="#8a8a8a" stroke-width="0.45" />
<line x1="193.8" y1="295.2" x2="251.5" y2="295.2" stroke="#555" stroke-width="0.5" />
<line x1="196.6" y1="295.2" x2="196.6" y2="306.6" stroke="#aaa" stroke-width="0.3" stroke-dasharray="0.6,0.6"/>
<line x1="209.8" y1="295.2" x2="209.8" y2="306.6" stroke="#aaa" stroke-width="0.3" stroke-dasharray="0.6,0.6"/>
<line x1="223" y1="295.2" x2="223" y2="306.6" stroke="#aaa" stroke-width="0.3" stroke-dasharray="0.6,0.6"/>
<line x1="236.2" y1="295.2" x2="236.2" y2="306.6" stroke="#aaa" stroke-width="0.3" stroke-dasharray="0.6,0.6"/>
<line x1="249.4" y1="295.2" x2="249.4" y2="306.6" stroke="#aaa" stroke-width="0.3" stroke-dasharray="0.6,0.6"/>
<text x="192.9" y="299.6" font-size="2.2" fill="#555" text-anchor="end" font-weight="normal" >Clu=high</text>
<line x1="193" y1="298.9" x2="193.8" y2="298.9" stroke="#555" stroke-width="0.3" />
<text x="197.1" y="299.5" font-size="1.8" fill="#666" text-anchor="start" font-weight="normal" >78</text>
<text x="210.3" y="299.5" font-size="1.8" fill="#666" text-anchor="start" font-weight="normal" >30</text>
<text x="223.5" y="299.5" font-size="1.8" fill="#666" text-anchor="start" font-weight="normal" >8</text>
<text x="236.7" y="299.5" font-size="1.8" fill="#666" text-anchor="start" font-weight="normal" >2</text>
<text x="249.9" y="299.5" font-size="1.8" fill="#666" text-anchor="start" font-weight="normal" >0</text>
<text x="192.9" y="304.6" font-size="2.2" fill="#555" text-anchor="end" font-weight="normal" >Clu=low</text>
<line x1="193" y1="303.9" x2="193.8" y2="303.9" stroke="#555" stroke-width="0.3" />
<text x="197.1" y="304.5" font-size="1.8" fill="#666" text-anchor="start" font-weight="normal" >79</text>
<text x="210.3" y="304.5" font-size="1.8" fill="#666" text-anchor="start" font-weight="normal" >46</text>
<text x="223.5" y="304.5" font-size="1.8" fill="#666" text-anchor="start" font-weight="normal" >19</text>
<text x="236.7" y="304.5" font-size="1.8" fill="#666" text-anchor="start" font-weight="normal" >6</text>
<text x="249.9" y="304.5" font-size="1.8" fill="#666" text-anchor="start" font-weight="normal" >1</text>
<line x1="196.6" y1="306.6" x2="196.6" y2="307.8" stroke="#555" stroke-width="0.35" />
<line x1="209.8" y1="306.6" x2="209.8" y2="307.8" stroke="#555" stroke-width="0.35" />
<line x1="223" y1="306.6" x2="223" y2="307.8" stroke="#555" stroke-width="0.35" />
<line x1="236.2" y1="306.6" x2="236.2" y2="307.8" stroke="#555" stroke-width="0.35" />
<line x1="249.4" y1="306.6" x2="249.4" y2="307.8" stroke="#555" stroke-width="0.35" />
<text x="222.65" y="311" font-size="2" fill="#666" text-anchor="middle" font-weight="normal" >Time (months)</text>
<text x="308.2" y="233.1" font-size="6.1" fill="#111" text-anchor="middle" font-weight="bold" stroke="#111" stroke-width="0.3">WDR4</text>
<line x1="276.5" y1="238.6" x2="277.5" y2="238.6" stroke="#555" stroke-width="0.35" />
<text x="276" y="239.2" font-size="1.8" fill="#666" text-anchor="end" font-weight="normal" >1.00</text>
<line x1="276.5" y1="252.28" x2="277.5" y2="252.28" stroke="#555" stroke-width="0.35" />
<text x="276" y="252.88" font-size="1.8" fill="#666" text-anchor="end" font-weight="normal" >0.75</text>
<line x1="276.5" y1="265.95" x2="277.5" y2="265.95" stroke="#555" stroke-width="0.35" />
<text x="276" y="266.55" font-size="1.8" fill="#666" text-anchor="end" font-weight="normal" >0.50</text>
<line x1="276.5" y1="279.62" x2="277.5" y2="279.62" stroke="#555" stroke-width="0.35" />
<text x="276" y="280.23" font-size="1.8" fill="#666" text-anchor="end" font-weight="normal" >0.25</text>
<line x1="276.5" y1="293.3" x2="277.5" y2="293.3" stroke="#555" stroke-width="0.35" />
<text x="276" y="293.9" font-size="1.8" fill="#666" text-anchor="end" font-weight="normal" >0.00</text>
<text x="0" y="0" font-size="2.7" fill="#777" text-anchor="middle" transform="translate(259.3,265.95) rotate(-90)">Survival probability</text>
<polyline points="280.6,238.6 282.15,238.6 282.15,239.73 283.44,239.73 283.44,240.68 285.46,240.68 285.46,242.15 286.65,242.15 286.65,243.01 288.5,243.01 288.5,244.35 290.1,244.35 290.1,245.5 291.27,245.5 291.27,246.33 293.08,246.33 293.08,247.63 294.21,247.63 294.21,248.44 295.92,248.44 295.92,249.75 297.1,249.75 297.1,250.72 298.31,250.72 298.31,251.72 300,251.72 300,253.11 302.27,253.11 302.27,254.97 303.4,254.97 303.4,255.9 303.4,255.9 325,255.9" fill="none" stroke="#62bcd6" stroke-width="0.6" stroke-dasharray="2.4,1.8"/>
<polyline points="280.6,238.6 282.01,238.6 282.01,241.92 284.47,241.92 284.47,247.75 285.73,247.75 285.73,250.15 287.83,250.15 287.83,253.45 289.03,253.45 289.03,255.34 290.47,255.34 290.47,257.59 292.99,257.59 292.99,261.13 294.37,261.13 294.37,262.71 296.37,262.71 296.37,265 298.11,265 298.11,266.99 299.85,266.99 299.85,268.77 301.64,268.77 301.64,270.4 303,270.4 303,271.63 303.4,271.63 303.4,272 303.4,272 325,272" fill="none" stroke="#62bcd6" stroke-width="0.6" stroke-dasharray="2.4,1.8"/>
<polyline points="280.6,238.6 282.35,238.6 282.35,241.64 283.96,241.64 283.96,244.46 285.24,244.46 285.24,246.68 287.57,246.68 287.57,250.36 288.66,250.36 288.66,251.99 290.46,251.99 290.46,254.7 292.84,254.7 292.84,257.98 294.03,257.98 294.03,259.37 295.91,259.37 295.91,261.57 297.88,261.57 297.88,263.86 299.02,263.86 299.02,264.96 300.65,264.96 300.65,266.49 302.74,266.49 302.74,268.45 303,268.7 322,268.7" fill="none" stroke="#e8906a" stroke-width="0.6" stroke-dasharray="2.4,1.8"/>
<polyline points="280.6,238.6 282.5,238.6 282.5,249.22 284.2,249.22 284.2,254.8 286.11,254.8 286.11,259.26 287.49,259.26 287.49,262.48 289.74,262.48 289.74,267.11 292.01,267.11 292.01,270.51 294.03,270.51 294.03,273.54 295.34,273.54 295.34,275.42 297.17,275.42 297.17,277.66 298.72,277.66 298.72,279.57 300.16,279.57 300.16,281.34 302,281.34 302,283.6 302,283.6 322,283.6" fill="none" stroke="#e8906a" stroke-width="0.6" stroke-dasharray="2.4,1.8"/>
<line x1="280.6" y1="265.95" x2="294.2" y2="265.95" stroke="#222" stroke-width="0.85" stroke-dasharray="2.4,1.5"/>
<line x1="294.2" y1="265.95" x2="294.2" y2="293.3" stroke="#222" stroke-width="0.85" stroke-dasharray="2.4,1.5"/>
<polyline points="280.6,238.6 281.94,238.6 281.94,240.99 283.1,240.99 283.1,243.06 284.66,243.06 284.66,245.83 285.89,245.83 285.89,248.02 287,248.02 287,250 288.57,250 288.57,253.51 290.84,253.51 290.84,258.59 292.94,258.59 292.94,263.31 295.01,263.31 295.01,267.25 296.33,267.25 296.33,269.21 298.08,269.21 298.08,271.82 299.47,271.82 299.47,273.89 300.73,273.89 300.73,275.76 301.89,275.76 301.89,277.49 302.1,277.8 321.6,277.8" fill="none" stroke="#d23a2c" stroke-width="1.2" stroke-linejoin="miter"/>
<polyline points="280.6,238.6 282.18,238.6 282.18,240.63 284.25,240.63 284.25,243.28 286.04,243.28 286.04,245.57 288.21,245.57 288.21,249.22 290.41,249.22 290.41,253.62 291.72,253.62 291.72,254.59 292.94,254.59 292.94,255.23 295.48,255.23 295.48,256.4 297.09,256.4 297.09,257.03 298.67,257.03 298.67,257.65 301.46,257.65 301.46,260.95 303.4,260.95 303.4,264.7 303.4,265.4 331.7,265.4" fill="none" stroke="#45a5b8" stroke-width="1.05" stroke-linejoin="miter"/>
<rect x="277.5" y="236.2" width="58" height="59" fill="none" stroke="#8a8a8a" stroke-width="0.5" />
<text x="307" y="238.8" font-size="2" fill="#444" text-anchor="middle" font-weight="normal" >Cox: HR=1.7(1.1-2.6)</text>
<text x="307" y="241.9" font-size="2" fill="#444" text-anchor="middle" font-weight="normal" >HR(logrank)=1.68</text>
<text x="307" y="245" font-size="2" fill="#444" text-anchor="middle" font-weight="normal" >p(log-rank)=0.01</text>
<rect x="321.5" y="240.5" width="2.5" height="1.2" fill="#d23a2c" stroke="none" stroke-width="0" />
<text x="324.6" y="241.8" font-size="2.3" fill="#666" text-anchor="start" font-weight="normal" >Clu=high</text>
<rect x="321.5" y="243.5" width="2.5" height="1.2" fill="#45a5b8" stroke="none" stroke-width="0" />
<text x="324.6" y="244.8" font-size="2.3" fill="#666" text-anchor="start" font-weight="normal" >Clu=low</text>
<text x="281.1" y="292.5" font-size="1.8" fill="#e07060" text-anchor="start" font-weight="normal" >Median time (months)</text>
<rect x="277.5" y="295.2" width="58" height="11.4" fill="none" stroke="#8a8a8a" stroke-width="0.45" />
<line x1="277.5" y1="295.2" x2="335.5" y2="295.2" stroke="#555" stroke-width="0.5" />
<line x1="280.6" y1="295.2" x2="280.6" y2="306.6" stroke="#aaa" stroke-width="0.3" stroke-dasharray="0.6,0.6"/>
<line x1="293.8" y1="295.2" x2="293.8" y2="306.6" stroke="#aaa" stroke-width="0.3" stroke-dasharray="0.6,0.6"/>
<line x1="307" y1="295.2" x2="307" y2="306.6" stroke="#aaa" stroke-width="0.3" stroke-dasharray="0.6,0.6"/>
<line x1="320.2" y1="295.2" x2="320.2" y2="306.6" stroke="#aaa" stroke-width="0.3" stroke-dasharray="0.6,0.6"/>
<line x1="333.4" y1="295.2" x2="333.4" y2="306.6" stroke="#aaa" stroke-width="0.3" stroke-dasharray="0.6,0.6"/>
<text x="276.6" y="299.6" font-size="2.2" fill="#555" text-anchor="end" font-weight="normal" >Clu=high</text>
<line x1="276.7" y1="298.9" x2="277.5" y2="298.9" stroke="#555" stroke-width="0.3" />
<text x="281.1" y="299.5" font-size="1.8" fill="#666" text-anchor="start" font-weight="normal" >78</text>
<text x="294.3" y="299.5" font-size="1.8" fill="#666" text-anchor="start" font-weight="normal" >30</text>
<text x="307.5" y="299.5" font-size="1.8" fill="#666" text-anchor="start" font-weight="normal" >8</text>
<text x="320.7" y="299.5" font-size="1.8" fill="#666" text-anchor="start" font-weight="normal" >2</text>
<text x="333.9" y="299.5" font-size="1.8" fill="#666" text-anchor="start" font-weight="normal" >0</text>
<text x="276.6" y="304.6" font-size="2.2" fill="#555" text-anchor="end" font-weight="normal" >Clu=low</text>
<line x1="276.7" y1="303.9" x2="277.5" y2="303.9" stroke="#555" stroke-width="0.3" />
<text x="281.1" y="304.5" font-size="1.8" fill="#666" text-anchor="start" font-weight="normal" >79</text>
<text x="294.3" y="304.5" font-size="1.8" fill="#666" text-anchor="start" font-weight="normal" >46</text>
<text x="307.5" y="304.5" font-size="1.8" fill="#666" text-anchor="start" font-weight="normal" >19</text>
<text x="320.7" y="304.5" font-size="1.8" fill="#666" text-anchor="start" font-weight="normal" >6</text>
<text x="333.9" y="304.5" font-size="1.8" fill="#666" text-anchor="start" font-weight="normal" >1</text>
<line x1="280.6" y1="306.6" x2="280.6" y2="307.8" stroke="#555" stroke-width="0.35" />
<line x1="293.8" y1="306.6" x2="293.8" y2="307.8" stroke="#555" stroke-width="0.35" />
<line x1="307" y1="306.6" x2="307" y2="307.8" stroke="#555" stroke-width="0.35" />
<line x1="320.2" y1="306.6" x2="320.2" y2="307.8" stroke="#555" stroke-width="0.35" />
<line x1="333.4" y1="306.6" x2="333.4" y2="307.8" stroke="#555" stroke-width="0.35" />
<text x="306.5" y="311" font-size="2" fill="#666" text-anchor="middle" font-weight="normal" >Time (months)</text>
<rect x="11.2" y="322.4" width="72.4" height="71.1" fill="none" stroke="#8a8a8a" stroke-width="0.55" />
<line x1="10.2" y1="391" x2="11.2" y2="391" stroke="#777" stroke-width="0.35" />
<text x="9.8" y="391.6" font-size="1.8" fill="#777" text-anchor="end" font-weight="normal" >0.00</text>
<line x1="14.5" y1="393.5" x2="14.5" y2="394.5" stroke="#777" stroke-width="0.35" />
<text x="14.5" y="396.2" font-size="1.8" fill="#777" text-anchor="middle" font-weight="normal" >0.00</text>
<line x1="10.2" y1="374.8" x2="11.2" y2="374.8" stroke="#777" stroke-width="0.35" />
<text x="9.8" y="375.4" font-size="1.8" fill="#777" text-anchor="end" font-weight="normal" >0.25</text>
<line x1="30.98" y1="393.5" x2="30.98" y2="394.5" stroke="#777" stroke-width="0.35" />
<text x="30.98" y="396.2" font-size="1.8" fill="#777" text-anchor="middle" font-weight="normal" >0.25</text>
<line x1="10.2" y1="358.6" x2="11.2" y2="358.6" stroke="#777" stroke-width="0.35" />
<text x="9.8" y="359.2" font-size="1.8" fill="#777" text-anchor="end" font-weight="normal" >0.50</text>
<line x1="47.45" y1="393.5" x2="47.45" y2="394.5" stroke="#777" stroke-width="0.35" />
<text x="47.45" y="396.2" font-size="1.8" fill="#777" text-anchor="middle" font-weight="normal" >0.50</text>
<line x1="10.2" y1="342.4" x2="11.2" y2="342.4" stroke="#777" stroke-width="0.35" />
<text x="9.8" y="343" font-size="1.8" fill="#777" text-anchor="end" font-weight="normal" >0.75</text>
<line x1="63.93" y1="393.5" x2="63.93" y2="394.5" stroke="#777" stroke-width="0.35" />
<text x="63.93" y="396.2" font-size="1.8" fill="#777" text-anchor="middle" font-weight="normal" >0.75</text>
<line x1="10.2" y1="326.2" x2="11.2" y2="326.2" stroke="#777" stroke-width="0.35" />
<text x="9.8" y="326.8" font-size="1.8" fill="#777" text-anchor="end" font-weight="normal" >1.00</text>
<line x1="80.4" y1="393.5" x2="80.4" y2="394.5" stroke="#777" stroke-width="0.35" />
<text x="80.4" y="396.2" font-size="1.8" fill="#777" text-anchor="middle" font-weight="normal" >1.00</text>
<text x="47.4" y="398.4" font-size="1.9" fill="#666" text-anchor="middle" font-weight="normal" >False positive fraction</text>
<text x="0" y="0" font-size="1.9" fill="#666" text-anchor="middle" transform="translate(6,357.95) rotate(-90)">True positive fraction</text>
<text x="45.59" y="382.5" font-size="2" fill="#666" text-anchor="start" font-weight="normal" >time</text>
<rect x="46.39" y="384.6" width="1.8" height="1.6" fill="#c9544e" stroke="none" stroke-width="0" />
<text x="48.99" y="386" font-size="1.95" fill="#666" text-anchor="start" font-weight="normal" >1 Year AUC = 0.61 (95%CI 0.52-0.70)</text>
<rect x="46.39" y="387.7" width="1.8" height="1.6" fill="#3a9c82" stroke="none" stroke-width="0" />
<text x="48.99" y="389.1" font-size="1.95" fill="#666" text-anchor="start" font-weight="normal" >3 Year AUC = 0.58 (95%CI 0.48-0.68)</text>
<rect x="46.39" y="390.8" width="1.8" height="1.6" fill="#2f9088" stroke="none" stroke-width="0" />
<text x="48.99" y="392.2" font-size="1.95" fill="#666" text-anchor="start" font-weight="normal" >5 Year AUC = 0.60 (95%CI 0.49-0.71)</text>
<path d="M14.5,391 L14.53,390.55 L14.61,389.93 L14.73,389.24 L14.89,388.49 L15.08,387.71 L15.31,386.9 L15.57,386.07 L15.86,385.21 L16.18,384.34 L16.54,383.45 L16.92,382.55 L17.33,381.63 L17.77,380.71 L18.23,379.77 L18.73,378.83 L19.25,377.88 L19.79,376.92 L20.37,375.95 L20.97,374.98 L21.59,374.01 L22.24,373.03 L22.92,372.04 L23.62,371.05 L24.35,370.06 L25.1,369.07 L25.87,368.07 L26.67,367.07 L27.5,366.07 L28.34,365.07 L29.22,364.07 L30.11,363.06 L31.03,362.06 L31.97,361.05 L32.93,360.05 L33.92,359.04 L34.93,358.04 L35.96,357.03 L37.02,356.03 L38.1,355.02 L39.2,354.02 L40.32,353.02 L41.47,352.02 L42.63,351.02 L43.82,350.03 L45.03,349.03 L46.26,348.04 L47.52,347.05 L48.79,346.06 L50.09,345.08 L51.41,344.09 L52.75,343.12 L54.11,342.14 L55.49,341.17 L56.89,340.2 L58.31,339.24 L59.76,338.28 L61.22,337.32 L62.71,336.37 L64.22,335.42 L65.74,334.48 L67.29,333.54 L68.86,332.61 L70.45,331.69 L72.05,330.77 L73.68,329.86 L75.33,328.95 L77,328.05 L78.69,327.14 L80.4,326.2 L80.4,326.2 L78.69,327.96 L77,329.39 L75.33,330.75 L73.68,332.05 L72.05,333.31 L70.45,334.55 L68.86,335.77 L67.29,336.97 L65.74,338.15 L64.22,339.32 L62.71,340.48 L61.22,341.63 L59.76,342.76 L58.31,343.88 L56.89,345 L55.49,346.1 L54.11,347.2 L52.75,348.29 L51.41,349.37 L50.09,350.44 L48.79,351.5 L47.52,352.56 L46.26,353.61 L45.03,354.65 L43.82,355.68 L42.63,356.71 L41.47,357.73 L40.32,358.74 L39.2,359.74 L38.1,360.74 L37.02,361.73 L35.96,362.71 L34.93,363.68 L33.92,364.64 L32.93,365.6 L31.97,366.55 L31.03,367.49 L30.11,368.43 L29.22,369.35 L28.34,370.27 L27.5,371.17 L26.67,372.07 L25.87,372.96 L25.1,373.84 L24.35,374.71 L23.62,375.57 L22.92,376.43 L22.24,377.27 L21.59,378.1 L20.97,378.91 L20.37,379.72 L19.79,380.51 L19.25,381.3 L18.73,382.06 L18.23,382.82 L17.77,383.56 L17.33,384.28 L16.92,384.99 L16.54,385.68 L16.18,386.36 L15.86,387.01 L15.57,387.64 L15.31,388.24 L15.08,388.82 L14.89,389.36 L14.73,389.87 L14.61,390.33 L14.53,390.73 L14.5,391Z" fill="#d2f3ef" stroke="none"/>
<path d="M13.3,390.91 L13.34,390.42 L13.43,389.75 L13.56,389.01 L13.72,388.22 L13.92,387.41 L14.16,386.56 L14.43,385.7 L14.73,384.81 L15.06,383.91 L15.43,383 L15.82,382.07 L16.24,381.13 L16.69,380.18 L17.16,379.23 L17.67,378.26 L18.2,377.29 L18.76,376.31 L19.34,375.33 L19.95,374.34 L20.59,373.35 L21.25,372.35 L21.94,371.35 L22.65,370.35 L23.39,369.35 L24.15,368.34 L24.93,367.33 L25.74,366.32 L26.58,365.3 L27.43,364.29 L28.31,363.28 L29.22,362.26 L30.15,361.24 L31.1,360.23 L32.07,359.21 L33.07,358.2 L34.09,357.18 L35.13,356.17 L36.2,355.15 L37.28,354.14 L38.39,353.13 L39.53,352.12 L40.68,351.11 L41.86,350.11 L43.05,349.1 L44.27,348.1 L45.51,347.1 L46.78,346.1 L48.06,345.11 L49.37,344.12 L50.69,343.13 L52.04,342.14 L53.41,341.16 L54.8,340.18 L56.21,339.21 L57.65,338.24 L59.1,337.27 L60.57,336.31 L62.07,335.35 L63.58,334.4 L65.12,333.46 L66.67,332.51 L68.25,331.58 L69.85,330.65 L71.46,329.73 L73.1,328.81 L74.76,327.9 L76.43,326.99 L78.12,326.09 L79.82,325.15" fill="none" stroke="#ecb8ae" stroke-width="1.1" stroke-linecap="round" stroke-linejoin="round" />
<path d="M14.1,390.97 L14.13,390.5 L14.22,389.87 L14.34,389.16 L14.5,388.4 L14.7,387.61 L14.93,386.79 L15.19,385.94 L15.49,385.08 L15.81,384.2 L16.17,383.3 L16.55,382.39 L16.96,381.46 L17.41,380.53 L17.88,379.59 L18.37,378.64 L18.9,377.68 L19.45,376.71 L20.03,375.74 L20.63,374.77 L21.26,373.79 L21.91,372.8 L22.59,371.81 L23.3,370.82 L24.03,369.82 L24.78,368.82 L25.56,367.82 L26.36,366.82 L27.19,365.82 L28.04,364.81 L28.92,363.8 L29.81,362.8 L30.73,361.79 L31.68,360.78 L32.65,359.77 L33.64,358.76 L34.65,357.75 L35.69,356.74 L36.75,355.74 L37.83,354.73 L38.93,353.72 L40.06,352.72 L41.2,351.72 L42.37,350.72 L43.57,349.72 L44.78,348.72 L46.01,347.73 L47.27,346.73 L48.55,345.74 L49.85,344.76 L51.17,343.77 L52.51,342.79 L53.87,341.81 L55.26,340.84 L56.66,339.87 L58.09,338.9 L59.54,337.94 L61.01,336.98 L62.49,336.03 L64,335.08 L65.53,334.14 L67.08,333.2 L68.66,332.27 L70.25,331.34 L71.86,330.42 L73.49,329.51 L75.14,328.6 L76.81,327.69 L78.5,326.79 L80.21,325.85" fill="none" stroke="#b85a4c" stroke-width="0.8" stroke-linecap="round" stroke-linejoin="round" />
<path d="M14.8,391.02 L14.83,390.58 L14.91,389.97 L15.03,389.29 L15.18,388.56 L15.37,387.79 L15.6,386.99 L15.86,386.16 L16.15,385.31 L16.47,384.45 L16.81,383.56 L17.19,382.67 L17.6,381.76 L18.04,380.84 L18.5,379.91 L18.99,378.97 L19.51,378.02 L20.05,377.07 L20.62,376.11 L21.22,375.14 L21.84,374.17 L22.49,373.19 L23.17,372.21 L23.86,371.23 L24.59,370.24 L25.34,369.25 L26.11,368.26 L26.91,367.26 L27.73,366.27 L28.57,365.27 L29.44,364.27 L30.33,363.26 L31.25,362.26 L32.19,361.26 L33.15,360.26 L34.13,359.25 L35.14,358.25 L36.17,357.25 L37.23,356.25 L38.3,355.24 L39.4,354.24 L40.52,353.25 L41.66,352.25 L42.83,351.25 L44.01,350.26 L45.22,349.26 L46.45,348.27 L47.7,347.28 L48.97,346.3 L50.27,345.32 L51.58,344.34 L52.92,343.36 L54.28,342.38 L55.66,341.41 L57.06,340.45 L58.48,339.48 L59.92,338.53 L61.39,337.57 L62.87,336.62 L64.37,335.68 L65.9,334.74 L67.44,333.8 L69.01,332.87 L70.6,331.95 L72.2,331.03 L73.83,330.12 L75.48,329.21 L77.14,328.31 L78.83,327.41 L80.55,326.46" fill="none" stroke="#2f6e60" stroke-width="1.1" stroke-linecap="round" stroke-linejoin="round" />
<path d="M14.5,391 L14.53,390.73 L14.61,390.33 L14.73,389.87 L14.89,389.36 L15.08,388.82 L15.31,388.24 L15.57,387.64 L15.86,387.01 L16.18,386.36 L16.54,385.68 L16.92,384.99 L17.33,384.28 L17.77,383.56 L18.23,382.82 L18.73,382.06 L19.25,381.3 L19.79,380.51 L20.37,379.72 L20.97,378.91 L21.59,378.1 L22.24,377.27 L22.92,376.43 L23.62,375.57 L24.35,374.71 L25.1,373.84 L25.87,372.96 L26.67,372.07 L27.5,371.17 L28.34,370.27 L29.22,369.35 L30.11,368.43 L31.03,367.49 L31.97,366.55 L32.93,365.6 L33.92,364.64 L34.93,363.68 L35.96,362.71 L37.02,361.73 L38.1,360.74 L39.2,359.74 L40.32,358.74 L41.47,357.73 L42.63,356.71 L43.82,355.68 L45.03,354.65 L46.26,353.61 L47.52,352.56 L48.79,351.5 L50.09,350.44 L51.41,349.37 L52.75,348.29 L54.11,347.2 L55.49,346.1 L56.89,345 L58.31,343.88 L59.76,342.76 L61.22,341.63 L62.71,340.48 L64.22,339.32 L65.74,338.15 L67.29,336.97 L68.86,335.77 L70.45,334.55 L72.05,333.31 L73.68,332.05 L75.33,330.75 L77,329.39 L78.69,327.96 L80.4,326.2" fill="none" stroke="#c6f1ec" stroke-width="2.6" stroke-linecap="round" stroke-linejoin="round" />
<path d="M14.7,391.02 L14.73,390.76 L14.81,390.38 L14.93,389.93 L15.08,389.43 L15.27,388.89 L15.5,388.32 L15.75,387.72 L16.04,387.09 L16.36,386.45 L16.71,385.78 L17.09,385.09 L17.5,384.39 L17.94,383.66 L18.4,382.93 L18.89,382.18 L19.41,381.41 L19.96,380.63 L20.53,379.84 L21.13,379.03 L21.75,378.22 L22.4,377.39 L23.08,376.55 L23.78,375.7 L24.5,374.84 L25.25,373.97 L26.02,373.1 L26.82,372.21 L27.64,371.31 L28.49,370.4 L29.36,369.49 L30.25,368.57 L31.17,367.63 L32.11,366.69 L33.07,365.74 L34.06,364.79 L35.07,363.82 L36.1,362.85 L37.16,361.87 L38.23,360.88 L39.33,359.89 L40.45,358.89 L41.6,357.88 L42.76,356.86 L43.95,355.83 L45.16,354.8 L46.39,353.76 L47.64,352.71 L48.92,351.66 L50.22,350.6 L51.53,349.52 L52.87,348.44 L54.23,347.36 L55.61,346.26 L57.01,345.16 L58.44,344.04 L59.88,342.92 L61.35,341.78 L62.83,340.64 L64.34,339.48 L65.86,338.31 L67.41,337.13 L68.98,335.93 L70.57,334.71 L72.18,333.47 L73.81,332.21 L75.46,330.9 L77.13,329.55 L78.83,328.1 L80.54,326.34" fill="none" stroke="#2f9a96" stroke-width="1.3" stroke-linecap="round" stroke-linejoin="round" />
<rect x="96.4" y="322.5" width="72.4" height="71.9" fill="none" stroke="#8a8a8a" stroke-width="0.55" />
<line x1="95.4" y1="390.4" x2="96.4" y2="390.4" stroke="#777" stroke-width="0.35" />
<text x="95" y="391" font-size="1.8" fill="#777" text-anchor="end" font-weight="normal" >0.00</text>
<line x1="99.8" y1="394.4" x2="99.8" y2="395.4" stroke="#777" stroke-width="0.35" />
<text x="99.8" y="397.1" font-size="1.8" fill="#777" text-anchor="middle" font-weight="normal" >0.00</text>
<line x1="95.4" y1="374.27" x2="96.4" y2="374.27" stroke="#777" stroke-width="0.35" />
<text x="95" y="374.88" font-size="1.8" fill="#777" text-anchor="end" font-weight="normal" >0.25</text>
<line x1="116.15" y1="394.4" x2="116.15" y2="395.4" stroke="#777" stroke-width="0.35" />
<text x="116.15" y="397.1" font-size="1.8" fill="#777" text-anchor="middle" font-weight="normal" >0.25</text>
<line x1="95.4" y1="358.15" x2="96.4" y2="358.15" stroke="#777" stroke-width="0.35" />
<text x="95" y="358.75" font-size="1.8" fill="#777" text-anchor="end" font-weight="normal" >0.50</text>
<line x1="132.5" y1="394.4" x2="132.5" y2="395.4" stroke="#777" stroke-width="0.35" />
<text x="132.5" y="397.1" font-size="1.8" fill="#777" text-anchor="middle" font-weight="normal" >0.50</text>
<line x1="95.4" y1="342.02" x2="96.4" y2="342.02" stroke="#777" stroke-width="0.35" />
<text x="95" y="342.62" font-size="1.8" fill="#777" text-anchor="end" font-weight="normal" >0.75</text>
<line x1="148.85" y1="394.4" x2="148.85" y2="395.4" stroke="#777" stroke-width="0.35" />
<text x="148.85" y="397.1" font-size="1.8" fill="#777" text-anchor="middle" font-weight="normal" >0.75</text>
<line x1="95.4" y1="325.9" x2="96.4" y2="325.9" stroke="#777" stroke-width="0.35" />
<text x="95" y="326.5" font-size="1.8" fill="#777" text-anchor="end" font-weight="normal" >1.00</text>
<line x1="165.2" y1="394.4" x2="165.2" y2="395.4" stroke="#777" stroke-width="0.35" />
<text x="165.2" y="397.1" font-size="1.8" fill="#777" text-anchor="middle" font-weight="normal" >1.00</text>
<text x="132.6" y="399.3" font-size="1.9" fill="#666" text-anchor="middle" font-weight="normal" >False positive fraction</text>
<text x="0" y="0" font-size="1.9" fill="#666" text-anchor="middle" transform="translate(91.2,358.45) rotate(-90)">True positive fraction</text>
<text x="130.79" y="383.4" font-size="2" fill="#666" text-anchor="start" font-weight="normal" >time</text>
<rect x="131.59" y="385.5" width="1.8" height="1.6" fill="#c9544e" stroke="none" stroke-width="0" />
<text x="134.19" y="386.9" font-size="1.95" fill="#666" text-anchor="start" font-weight="normal" >1 Year AUC = 0.61 (95%CI 0.52-0.70)</text>
<rect x="131.59" y="388.6" width="1.8" height="1.6" fill="#3a9c82" stroke="none" stroke-width="0" />
<text x="134.19" y="390" font-size="1.95" fill="#666" text-anchor="start" font-weight="normal" >3 Year AUC = 0.58 (95%CI 0.48-0.68)</text>
<rect x="131.59" y="391.7" width="1.8" height="1.6" fill="#2f9088" stroke="none" stroke-width="0" />
<text x="134.19" y="393.1" font-size="1.95" fill="#666" text-anchor="start" font-weight="normal" >5 Year AUC = 0.60 (95%CI 0.49-0.71)</text>
<path d="M99.8,390.4 L99.83,390.26 L99.91,389.97 L100.03,389.57 L100.19,389.09 L100.38,388.54 L100.61,387.92 L100.86,387.25 L101.15,386.53 L101.47,385.77 L101.82,384.96 L102.2,384.12 L102.61,383.25 L103.04,382.34 L103.5,381.41 L103.99,380.45 L104.51,379.46 L105.05,378.45 L105.62,377.43 L106.22,376.38 L106.84,375.32 L107.49,374.24 L108.16,373.15 L108.85,372.04 L109.57,370.92 L110.32,369.8 L111.09,368.66 L111.88,367.52 L112.7,366.37 L113.54,365.21 L114.4,364.05 L115.29,362.88 L116.2,361.71 L117.14,360.54 L118.09,359.37 L119.07,358.2 L120.08,357.03 L121.1,355.86 L122.15,354.7 L123.22,353.54 L124.31,352.38 L125.42,351.23 L126.56,350.08 L127.72,348.94 L128.9,347.81 L130.1,346.69 L131.32,345.58 L132.57,344.47 L133.83,343.38 L135.12,342.31 L136.43,341.24 L137.76,340.2 L139.11,339.16 L140.48,338.15 L141.87,337.15 L143.28,336.17 L144.71,335.22 L146.17,334.28 L147.64,333.37 L149.14,332.49 L150.65,331.63 L152.19,330.81 L153.75,330.01 L155.32,329.26 L156.92,328.54 L158.53,327.87 L160.17,327.26 L161.83,326.7 L163.5,326.23 L165.2,325.9 L165.2,325.9 L163.5,326.4 L161.83,327.07 L160.17,327.83 L158.53,328.66 L156.92,329.54 L155.32,330.46 L153.75,331.42 L152.19,332.41 L150.65,333.42 L149.14,334.47 L147.64,335.53 L146.17,336.61 L144.71,337.71 L143.28,338.83 L141.87,339.96 L140.48,341.1 L139.11,342.25 L137.76,343.42 L136.43,344.59 L135.12,345.76 L133.83,346.94 L132.57,348.13 L131.32,349.32 L130.1,350.51 L128.9,351.71 L127.72,352.9 L126.56,354.1 L125.42,355.29 L124.31,356.48 L123.22,357.66 L122.15,358.85 L121.1,360.02 L120.08,361.2 L119.07,362.36 L118.09,363.52 L117.14,364.66 L116.2,365.8 L115.29,366.93 L114.4,368.05 L113.54,369.15 L112.7,370.24 L111.88,371.32 L111.09,372.38 L110.32,373.43 L109.57,374.46 L108.85,375.47 L108.16,376.47 L107.49,377.44 L106.84,378.39 L106.22,379.32 L105.62,380.23 L105.05,381.11 L104.51,381.96 L103.99,382.79 L103.5,383.59 L103.04,384.36 L102.61,385.09 L102.2,385.8 L101.82,386.46 L101.47,387.09 L101.15,387.67 L100.86,388.22 L100.61,388.71 L100.38,389.16 L100.19,389.55 L100.03,389.88 L99.91,390.14 L99.83,390.32 L99.8,390.4Z" fill="#def6f2" stroke="none"/>
<path d="M99.8,390.4 L99.83,390.26 L99.91,389.97 L100.03,389.57 L100.19,389.09 L100.38,388.54 L100.61,387.92 L100.86,387.25 L101.15,386.53 L101.47,385.77 L101.82,384.96 L102.2,384.12 L102.61,383.25 L103.04,382.34 L103.5,381.41 L103.99,380.45 L104.51,379.46 L105.05,378.45 L105.62,377.43 L106.22,376.38 L106.84,375.32 L107.49,374.24 L108.16,373.15 L108.85,372.04 L109.57,370.92 L110.32,369.8 L111.09,368.66 L111.88,367.52 L112.7,366.37 L113.54,365.21 L114.4,364.05 L115.29,362.88 L116.2,361.71 L117.14,360.54 L118.09,359.37 L119.07,358.2 L120.08,357.03 L121.1,355.86 L122.15,354.7 L123.22,353.54 L124.31,352.38 L125.42,351.23 L126.56,350.08 L127.72,348.94 L128.9,347.81 L130.1,346.69 L131.32,345.58 L132.57,344.47 L133.83,343.38 L135.12,342.31 L136.43,341.24 L137.76,340.2 L139.11,339.16 L140.48,338.15 L141.87,337.15 L143.28,336.17 L144.71,335.22 L146.17,334.28 L147.64,333.37 L149.14,332.49 L150.65,331.63 L152.19,330.81 L153.75,330.01 L155.32,329.26 L156.92,328.54 L158.53,327.87 L160.17,327.26 L161.83,326.7 L163.5,326.23 L165.2,325.9" fill="none" stroke="#c6f1ec" stroke-width="2.4" stroke-linecap="round" stroke-linejoin="round" />
<path d="M99.8,390.4 L99.83,390.32 L99.91,390.14 L100.03,389.88 L100.19,389.55 L100.38,389.16 L100.61,388.71 L100.86,388.22 L101.15,387.67 L101.47,387.09 L101.82,386.46 L102.2,385.8 L102.61,385.09 L103.04,384.36 L103.5,383.59 L103.99,382.79 L104.51,381.96 L105.05,381.11 L105.62,380.23 L106.22,379.32 L106.84,378.39 L107.49,377.44 L108.16,376.47 L108.85,375.47 L109.57,374.46 L110.32,373.43 L111.09,372.38 L111.88,371.32 L112.7,370.24 L113.54,369.15 L114.4,368.05 L115.29,366.93 L116.2,365.8 L117.14,364.66 L118.09,363.52 L119.07,362.36 L120.08,361.2 L121.1,360.02 L122.15,358.85 L123.22,357.66 L124.31,356.48 L125.42,355.29 L126.56,354.1 L127.72,352.9 L128.9,351.71 L130.1,350.51 L131.32,349.32 L132.57,348.13 L133.83,346.94 L135.12,345.76 L136.43,344.59 L137.76,343.42 L139.11,342.25 L140.48,341.1 L141.87,339.96 L143.28,338.83 L144.71,337.71 L146.17,336.61 L147.64,335.53 L149.14,334.47 L150.65,333.42 L152.19,332.41 L153.75,331.42 L155.32,330.46 L156.92,329.54 L158.53,328.66 L160.17,327.83 L161.83,327.07 L163.5,326.4 L165.2,325.9" fill="none" stroke="#c6f1ec" stroke-width="2.4" stroke-linecap="round" stroke-linejoin="round" />
<path d="M99.8,390.4 L99.83,390.26 L99.91,389.97 L100.03,389.57 L100.19,389.09 L100.38,388.54 L100.61,387.92 L100.86,387.25 L101.15,386.53 L101.47,385.77 L101.82,384.96 L102.2,384.12 L102.61,383.25 L103.04,382.34 L103.5,381.41 L103.99,380.45 L104.51,379.46 L105.05,378.45 L105.62,377.43 L106.22,376.38 L106.84,375.32 L107.49,374.24 L108.16,373.15 L108.85,372.04 L109.57,370.92 L110.32,369.8 L111.09,368.66 L111.88,367.52 L112.7,366.37 L113.54,365.21 L114.4,364.05 L115.29,362.88 L116.2,361.71 L117.14,360.54 L118.09,359.37 L119.07,358.2 L120.08,357.03 L121.1,355.86 L122.15,354.7 L123.22,353.54 L124.31,352.38 L125.42,351.23 L126.56,350.08 L127.72,348.94 L128.9,347.81 L130.1,346.69 L131.32,345.58 L132.57,344.47 L133.83,343.38 L135.12,342.31 L136.43,341.24 L137.76,340.2 L139.11,339.16 L140.48,338.15 L141.87,337.15 L143.28,336.17 L144.71,335.22 L146.17,334.28 L147.64,333.37 L149.14,332.49 L150.65,331.63 L152.19,330.81 L153.75,330.01 L155.32,329.26 L156.92,328.54 L158.53,327.87 L160.17,327.26 L161.83,326.7 L163.5,326.23 L165.2,325.9" fill="none" stroke="#2f7a6c" stroke-width="1.25" stroke-linecap="round" stroke-linejoin="round" />
<path d="M107.44,375.67 L108.08,374.6 L108.75,373.52 L109.44,372.42 L110.16,371.31 L110.9,370.19 L111.66,369.06 L112.45,367.92 L113.27,366.78 L114.1,365.62 L114.96,364.47 L115.85,363.31 L116.75,362.15 L117.68,360.98 L118.63,359.82 L119.61,358.65 L120.61,357.49 L121.63,356.33 L122.67,355.17 L123.73,354.01 L124.82,352.86 L125.93,351.72 L127.05,350.58 L128.21,349.44 L129.38,348.32 L130.57,347.2 L131.79,346.1 L133.03,345 L134.28,343.92 L135.56,342.85 L136.86,341.79 L138.18,340.75 L139.53,339.72 L140.89,338.71 L142.27,337.72" fill="none" stroke="#9a6a6a" stroke-width="0.6" stroke-linecap="round" stroke-linejoin="round" />
<path d="M99.8,390.4 L99.83,390.32 L99.91,390.14 L100.03,389.88 L100.19,389.55 L100.38,389.16 L100.61,388.71 L100.86,388.22 L101.15,387.67 L101.47,387.09 L101.82,386.46 L102.2,385.8 L102.61,385.09 L103.04,384.36 L103.5,383.59 L103.99,382.79 L104.51,381.96 L105.05,381.11 L105.62,380.23 L106.22,379.32 L106.84,378.39 L107.49,377.44 L108.16,376.47 L108.85,375.47 L109.57,374.46 L110.32,373.43 L111.09,372.38 L111.88,371.32 L112.7,370.24 L113.54,369.15 L114.4,368.05 L115.29,366.93 L116.2,365.8 L117.14,364.66 L118.09,363.52 L119.07,362.36 L120.08,361.2 L121.1,360.02 L122.15,358.85 L123.22,357.66 L124.31,356.48 L125.42,355.29 L126.56,354.1 L127.72,352.9 L128.9,351.71 L130.1,350.51 L131.32,349.32 L132.57,348.13 L133.83,346.94 L135.12,345.76 L136.43,344.59 L137.76,343.42 L139.11,342.25 L140.48,341.1 L141.87,339.96 L143.28,338.83 L144.71,337.71 L146.17,336.61 L147.64,335.53 L149.14,334.47 L150.65,333.42 L152.19,332.41 L153.75,331.42 L155.32,330.46 L156.92,329.54 L158.53,328.66 L160.17,327.83 L161.83,327.07 L163.5,326.4 L165.2,325.9" fill="none" stroke="#36a29c" stroke-width="1.25" stroke-linecap="round" stroke-linejoin="round" />
<rect x="181.5" y="322.3" width="72" height="71.9" fill="none" stroke="#8a8a8a" stroke-width="0.55" />
<line x1="180.5" y1="390.9" x2="181.5" y2="390.9" stroke="#777" stroke-width="0.35" />
<text x="180.1" y="391.5" font-size="1.8" fill="#777" text-anchor="end" font-weight="normal" >0.00</text>
<line x1="184.9" y1="394.2" x2="184.9" y2="395.2" stroke="#777" stroke-width="0.35" />
<text x="184.9" y="396.9" font-size="1.8" fill="#777" text-anchor="middle" font-weight="normal" >0.00</text>
<line x1="180.5" y1="374.55" x2="181.5" y2="374.55" stroke="#777" stroke-width="0.35" />
<text x="180.1" y="375.15" font-size="1.8" fill="#777" text-anchor="end" font-weight="normal" >0.25</text>
<line x1="201.15" y1="394.2" x2="201.15" y2="395.2" stroke="#777" stroke-width="0.35" />
<text x="201.15" y="396.9" font-size="1.8" fill="#777" text-anchor="middle" font-weight="normal" >0.25</text>
<line x1="180.5" y1="358.2" x2="181.5" y2="358.2" stroke="#777" stroke-width="0.35" />
<text x="180.1" y="358.8" font-size="1.8" fill="#777" text-anchor="end" font-weight="normal" >0.50</text>
<line x1="217.4" y1="394.2" x2="217.4" y2="395.2" stroke="#777" stroke-width="0.35" />
<text x="217.4" y="396.9" font-size="1.8" fill="#777" text-anchor="middle" font-weight="normal" >0.50</text>
<line x1="180.5" y1="341.85" x2="181.5" y2="341.85" stroke="#777" stroke-width="0.35" />
<text x="180.1" y="342.45" font-size="1.8" fill="#777" text-anchor="end" font-weight="normal" >0.75</text>
<line x1="233.65" y1="394.2" x2="233.65" y2="395.2" stroke="#777" stroke-width="0.35" />
<text x="233.65" y="396.9" font-size="1.8" fill="#777" text-anchor="middle" font-weight="normal" >0.75</text>
<line x1="180.5" y1="325.5" x2="181.5" y2="325.5" stroke="#777" stroke-width="0.35" />
<text x="180.1" y="326.1" font-size="1.8" fill="#777" text-anchor="end" font-weight="normal" >1.00</text>
<line x1="249.9" y1="394.2" x2="249.9" y2="395.2" stroke="#777" stroke-width="0.35" />
<text x="249.9" y="396.9" font-size="1.8" fill="#777" text-anchor="middle" font-weight="normal" >1.00</text>
<text x="217.5" y="399.1" font-size="1.9" fill="#666" text-anchor="middle" font-weight="normal" >False positive fraction</text>
<text x="0" y="0" font-size="1.9" fill="#666" text-anchor="middle" transform="translate(176.3,358.25) rotate(-90)">True positive fraction</text>
<text x="215.7" y="383.2" font-size="2" fill="#666" text-anchor="start" font-weight="normal" >time</text>
<rect x="216.5" y="385.3" width="1.8" height="1.6" fill="#c9544e" stroke="none" stroke-width="0" />
<text x="219.1" y="386.7" font-size="1.95" fill="#666" text-anchor="start" font-weight="normal" >1 Year AUC = 0.61 (95%CI 0.52-0.70)</text>
<rect x="216.5" y="388.4" width="1.8" height="1.6" fill="#3a9c82" stroke="none" stroke-width="0" />
<text x="219.1" y="389.8" font-size="1.95" fill="#666" text-anchor="start" font-weight="normal" >3 Year AUC = 0.58 (95%CI 0.48-0.68)</text>
<rect x="216.5" y="391.5" width="1.8" height="1.6" fill="#2f9088" stroke="none" stroke-width="0" />
<text x="219.1" y="392.9" font-size="1.95" fill="#666" text-anchor="start" font-weight="normal" >5 Year AUC = 0.60 (95%CI 0.49-0.71)</text>
<path d="M184.9,391 L185.65,390.1 L186.39,389.19 L187.12,388.28 L187.85,387.36 L188.57,386.44 L189.29,385.51 L190,384.58 L190.71,383.65 L191.42,382.71 L192.12,381.77 L192.82,380.83 L193.53,379.89 L194.23,378.96 L194.94,378.02 L195.64,377.08 L196.35,376.14 L197.06,375.21 L197.78,374.28 L198.5,373.36 L199.22,372.44 L199.95,371.52 L200.69,370.61 L201.44,369.71 L202.19,368.81 L202.95,367.93 L203.73,367.05 L204.51,366.17 L205.3,365.31 L206.09,364.45 L206.9,363.6 L207.7,362.75 L208.51,361.9 L209.33,361.06 L210.14,360.21 L210.95,359.37 L211.76,358.52 L212.57,357.66 L213.37,356.81 L214.16,355.95 L214.95,355.08 L215.74,354.21 L216.53,353.35 L217.32,352.48 L218.12,351.62 L218.92,350.76 L219.72,349.91 L220.54,349.07 L221.36,348.24 L222.19,347.41 L223.04,346.6 L223.89,345.8 L224.76,345.02 L225.64,344.24 L226.52,343.47 L227.42,342.72 L228.32,341.97 L229.23,341.23 L230.15,340.5 L231.07,339.77 L232,339.05 L232.94,338.34 L233.87,337.64 L234.82,336.94 L235.76,336.24 L236.71,335.55 L237.66,334.86 L238.61,334.17 L239.56,333.49 L240.51,332.8 L241.46,332.12 L242.41,331.43 L243.35,330.74 L244.3,330.05 L245.24,329.36 L246.18,328.66 L247.12,327.95 L248.05,327.24 L248.98,326.53 L249.9,325.8" fill="none" stroke="#e0f4ef" stroke-width="4.2" stroke-linecap="round" stroke-linejoin="round" />
<path d="M184.9,391 L185.76,390.19 L186.62,389.38 L187.47,388.56 L188.31,387.72 L189.14,386.88 L189.97,386.03 L190.78,385.18 L191.59,384.32 L192.33,383.4 L193.04,382.46 L193.75,381.52 L194.45,380.58 L195.15,379.64 L195.85,378.71 L196.56,377.77 L197.27,376.84 L197.97,375.91 L198.69,374.99 L199.4,374.07 L200.12,373.15 L200.85,372.24 L201.58,371.34 L202.32,370.45 L203.07,369.56 L203.82,368.68 L204.59,367.81 L205.36,366.95 L206.14,366.09 L206.93,365.24 L207.73,364.39 L208.5,363.51 L209.22,362.58 L209.94,361.65 L210.66,360.71 L211.37,359.77 L212.08,358.82 L212.78,357.87 L213.47,356.91 L214.16,355.95 L214.87,355 L215.57,354.05 L216.27,353.11 L216.98,352.16 L217.69,351.22 L218.41,350.29 L219.15,349.36 L219.9,348.45 L220.69,347.56 L221.53,346.73 L222.38,345.91 L223.25,345.11 L224.13,344.31 L225.01,343.53 L225.91,342.75 L226.81,341.99 L227.72,341.23 L228.64,340.49 L229.56,339.75 L230.49,339.02 L231.42,338.3 L232.36,337.58 L233.31,336.88 L234.25,336.17 L235.2,335.47 L236.15,334.78 L237.1,334.09 L238.05,333.4 L239,332.72 L239.95,332.03 L240.9,331.35 L241.88,330.71 L242.89,330.1 L243.89,329.5 L244.9,328.89 L245.9,328.28 L246.9,327.67 L247.91,327.05 L248.9,326.43 L249.9,325.8" fill="none" stroke="#b9453c" stroke-width="1.2" stroke-linecap="round" stroke-linejoin="round" />
<path d="M184.9,391 L185.53,390.01 L186.16,389.01 L186.78,388.01 L187.39,387 L188,386 L188.61,384.99 L189.22,383.99 L189.83,382.98 L190.5,382.02 L191.2,381.08 L191.9,380.14 L192.61,379.21 L193.31,378.27 L194.02,377.33 L194.72,376.39 L195.43,375.45 L196.15,374.51 L196.87,373.58 L197.59,372.65 L198.32,371.72 L199.06,370.8 L199.8,369.88 L200.55,368.97 L201.31,368.07 L202.08,367.17 L202.87,366.28 L203.65,365.4 L204.45,364.53 L205.25,363.67 L206.06,362.81 L206.9,361.99 L207.81,361.22 L208.71,360.47 L209.62,359.71 L210.53,358.96 L211.44,358.21 L212.35,357.46 L213.26,356.71 L214.16,355.95 L215.04,355.16 L215.92,354.37 L216.8,353.59 L217.67,352.8 L218.55,352.02 L219.42,351.23 L220.3,350.46 L221.18,349.69 L222.03,348.91 L222.85,348.09 L223.69,347.29 L224.54,346.5 L225.39,345.72 L226.26,344.96 L227.14,344.2 L228.03,343.44 L228.92,342.7 L229.83,341.97 L230.74,341.24 L231.66,340.52 L232.58,339.81 L233.51,339.1 L234.44,338.4 L235.38,337.7 L236.32,337.01 L237.27,336.32 L238.21,335.63 L239.16,334.94 L240.11,334.26 L241.06,333.57 L242.01,332.89 L242.93,332.15 L243.82,331.38 L244.71,330.61 L245.59,329.82 L246.46,329.03 L247.33,328.24 L248.2,327.43 L249.05,326.62 L249.9,325.8" fill="none" stroke="#2a8262" stroke-width="1.2" stroke-linecap="round" stroke-linejoin="round" />
<rect x="265.1" y="322.2" width="71.7" height="72" fill="none" stroke="#8a8a8a" stroke-width="0.55" />
<line x1="264.1" y1="390.5" x2="265.1" y2="390.5" stroke="#777" stroke-width="0.35" />
<text x="263.7" y="391.1" font-size="1.8" fill="#777" text-anchor="end" font-weight="normal" >0.00</text>
<line x1="267.9" y1="394.2" x2="267.9" y2="395.2" stroke="#777" stroke-width="0.35" />
<text x="267.9" y="396.9" font-size="1.8" fill="#777" text-anchor="middle" font-weight="normal" >0.00</text>
<line x1="264.1" y1="374.43" x2="265.1" y2="374.43" stroke="#777" stroke-width="0.35" />
<text x="263.7" y="375.03" font-size="1.8" fill="#777" text-anchor="end" font-weight="normal" >0.25</text>
<line x1="284.27" y1="394.2" x2="284.27" y2="395.2" stroke="#777" stroke-width="0.35" />
<text x="284.27" y="396.9" font-size="1.8" fill="#777" text-anchor="middle" font-weight="normal" >0.25</text>
<line x1="264.1" y1="358.35" x2="265.1" y2="358.35" stroke="#777" stroke-width="0.35" />
<text x="263.7" y="358.95" font-size="1.8" fill="#777" text-anchor="end" font-weight="normal" >0.50</text>
<line x1="300.65" y1="394.2" x2="300.65" y2="395.2" stroke="#777" stroke-width="0.35" />
<text x="300.65" y="396.9" font-size="1.8" fill="#777" text-anchor="middle" font-weight="normal" >0.50</text>
<line x1="264.1" y1="342.27" x2="265.1" y2="342.27" stroke="#777" stroke-width="0.35" />
<text x="263.7" y="342.88" font-size="1.8" fill="#777" text-anchor="end" font-weight="normal" >0.75</text>
<line x1="317.02" y1="394.2" x2="317.02" y2="395.2" stroke="#777" stroke-width="0.35" />
<text x="317.02" y="396.9" font-size="1.8" fill="#777" text-anchor="middle" font-weight="normal" >0.75</text>
<line x1="264.1" y1="326.2" x2="265.1" y2="326.2" stroke="#777" stroke-width="0.35" />
<text x="263.7" y="326.8" font-size="1.8" fill="#777" text-anchor="end" font-weight="normal" >1.00</text>
<line x1="333.4" y1="394.2" x2="333.4" y2="395.2" stroke="#777" stroke-width="0.35" />
<text x="333.4" y="396.9" font-size="1.8" fill="#777" text-anchor="middle" font-weight="normal" >1.00</text>
<text x="300.95" y="399.1" font-size="1.9" fill="#666" text-anchor="middle" font-weight="normal" >False positive fraction</text>
<text x="0" y="0" font-size="1.9" fill="#666" text-anchor="middle" transform="translate(259.9,358.2) rotate(-90)">True positive fraction</text>
<text x="299.16" y="383.2" font-size="2" fill="#666" text-anchor="start" font-weight="normal" >time</text>
<rect x="299.96" y="385.3" width="1.8" height="1.6" fill="#c9544e" stroke="none" stroke-width="0" />
<text x="302.56" y="386.7" font-size="1.95" fill="#666" text-anchor="start" font-weight="normal" >1 Year AUC = 0.61 (95%CI 0.52-0.70)</text>
<rect x="299.96" y="388.4" width="1.8" height="1.6" fill="#3a9c82" stroke="none" stroke-width="0" />
<text x="302.56" y="389.8" font-size="1.95" fill="#666" text-anchor="start" font-weight="normal" >3 Year AUC = 0.58 (95%CI 0.48-0.68)</text>
<rect x="299.96" y="391.5" width="1.8" height="1.6" fill="#2f9088" stroke="none" stroke-width="0" />
<text x="302.56" y="392.9" font-size="1.95" fill="#666" text-anchor="start" font-weight="normal" >5 Year AUC = 0.60 (95%CI 0.49-0.71)</text>
<path d="M267.9,390.5 L267.93,389.77 L268.01,388.87 L268.13,387.9 L268.29,386.89 L268.48,385.86 L268.71,384.81 L268.97,383.74 L269.25,382.67 L269.57,381.59 L269.92,380.51 L270.3,379.42 L270.71,378.33 L271.15,377.25 L271.61,376.16 L272.1,375.07 L272.62,373.98 L273.16,372.9 L273.73,371.82 L274.33,370.74 L274.95,369.67 L275.6,368.6 L276.27,367.53 L276.97,366.47 L277.69,365.41 L278.43,364.36 L279.2,363.32 L280,362.28 L280.82,361.24 L281.66,360.21 L282.53,359.19 L283.42,358.17 L284.33,357.16 L285.26,356.16 L286.22,355.16 L287.2,354.17 L288.21,353.19 L289.23,352.21 L290.28,351.25 L291.35,350.29 L292.45,349.33 L293.56,348.39 L294.7,347.45 L295.86,346.53 L297.04,345.61 L298.25,344.69 L299.47,343.79 L300.72,342.9 L301.98,342.02 L303.27,341.14 L304.58,340.28 L305.91,339.42 L307.27,338.57 L308.64,337.74 L310.03,336.92 L311.45,336.1 L312.88,335.3 L314.34,334.51 L315.82,333.73 L317.31,332.97 L318.83,332.21 L320.37,331.48 L321.93,330.75 L323.51,330.04 L325.11,329.35 L326.72,328.67 L328.36,328.02 L330.02,327.39 L331.7,326.78 L333.4,326.2 L333.4,326.2 L331.7,327.42 L330.02,328.43 L328.36,329.39 L326.72,330.32 L325.11,331.24 L323.51,332.15 L321.93,333.06 L320.37,333.96 L318.83,334.86 L317.31,335.75 L315.82,336.65 L314.34,337.54 L312.88,338.44 L311.45,339.33 L310.03,340.23 L308.64,341.12 L307.27,342.02 L305.91,342.92 L304.58,343.82 L303.27,344.72 L301.98,345.62 L300.72,346.53 L299.47,347.43 L298.25,348.34 L297.04,349.25 L295.86,350.16 L294.7,351.07 L293.56,351.99 L292.45,352.9 L291.35,353.82 L290.28,354.74 L289.23,355.66 L288.21,356.59 L287.2,357.51 L286.22,358.44 L285.26,359.37 L284.33,360.3 L283.42,361.23 L282.53,362.17 L281.66,363.1 L280.82,364.04 L280,364.98 L279.2,365.92 L278.43,366.87 L277.69,367.81 L276.97,368.76 L276.27,369.71 L275.6,370.66 L274.95,371.61 L274.33,372.57 L273.73,373.52 L273.16,374.48 L272.62,375.43 L272.1,376.39 L271.61,377.35 L271.15,378.31 L270.71,379.27 L270.3,380.23 L269.92,381.19 L269.57,382.15 L269.25,383.11 L268.97,384.07 L268.71,385.02 L268.48,385.97 L268.29,386.92 L268.13,387.86 L268.01,388.78 L267.93,389.68 L267.9,390.5Z" fill="#e2f7f4" stroke="none"/>
<path d="M267.9,390.5 L267.93,389.77 L268.01,388.87 L268.13,387.9 L268.29,386.89 L268.48,385.86 L268.71,384.81 L268.97,383.74 L269.25,382.67 L269.57,381.59 L269.92,380.51 L270.3,379.42 L270.71,378.33 L271.15,377.25 L271.61,376.16 L272.1,375.07 L272.62,373.98 L273.16,372.9 L273.73,371.82 L274.33,370.74 L274.95,369.67 L275.6,368.6 L276.27,367.53 L276.97,366.47 L277.69,365.41 L278.43,364.36 L279.2,363.32 L280,362.28 L280.82,361.24 L281.66,360.21 L282.53,359.19 L283.42,358.17 L284.33,357.16 L285.26,356.16 L286.22,355.16 L287.2,354.17 L288.21,353.19 L289.23,352.21 L290.28,351.25 L291.35,350.29 L292.45,349.33 L293.56,348.39 L294.7,347.45 L295.86,346.53 L297.04,345.61 L298.25,344.69 L299.47,343.79 L300.72,342.9 L301.98,342.02 L303.27,341.14 L304.58,340.28 L305.91,339.42 L307.27,338.57 L308.64,337.74 L310.03,336.92 L311.45,336.1 L312.88,335.3 L314.34,334.51 L315.82,333.73 L317.31,332.97 L318.83,332.21 L320.37,331.48 L321.93,330.75 L323.51,330.04 L325.11,329.35 L326.72,328.67 L328.36,328.02 L330.02,327.39 L331.7,326.78 L333.4,326.2" fill="none" stroke="#c6f1ec" stroke-width="2.6" stroke-linecap="round" stroke-linejoin="round" />
<path d="M267.9,390.5 L267.93,389.68 L268.01,388.78 L268.13,387.86 L268.29,386.92 L268.48,385.97 L268.71,385.02 L268.97,384.07 L269.25,383.11 L269.57,382.15 L269.92,381.19 L270.3,380.23 L270.71,379.27 L271.15,378.31 L271.61,377.35 L272.1,376.39 L272.62,375.43 L273.16,374.48 L273.73,373.52 L274.33,372.57 L274.95,371.61 L275.6,370.66 L276.27,369.71 L276.97,368.76 L277.69,367.81 L278.43,366.87 L279.2,365.92 L280,364.98 L280.82,364.04 L281.66,363.1 L282.53,362.17 L283.42,361.23 L284.33,360.3 L285.26,359.37 L286.22,358.44 L287.2,357.51 L288.21,356.59 L289.23,355.66 L290.28,354.74 L291.35,353.82 L292.45,352.9 L293.56,351.99 L294.7,351.07 L295.86,350.16 L297.04,349.25 L298.25,348.34 L299.47,347.43 L300.72,346.53 L301.98,345.62 L303.27,344.72 L304.58,343.82 L305.91,342.92 L307.27,342.02 L308.64,341.12 L310.03,340.23 L311.45,339.33 L312.88,338.44 L314.34,337.54 L315.82,336.65 L317.31,335.75 L318.83,334.86 L320.37,333.96 L321.93,333.06 L323.51,332.15 L325.11,331.24 L326.72,330.32 L328.36,329.39 L330.02,328.43 L331.7,327.42 L333.4,326.2" fill="none" stroke="#c6f1ec" stroke-width="2.6" stroke-linecap="round" stroke-linejoin="round" />
<path d="M267.9,390.5 L267.93,389.77 L268.01,388.87 L268.13,387.9 L268.29,386.89 L268.48,385.86 L268.71,384.81 L268.97,383.74 L269.25,382.67 L269.57,381.59 L269.92,380.51 L270.3,379.42 L270.71,378.33 L271.15,377.25 L271.61,376.16 L272.1,375.07 L272.62,373.98 L273.16,372.9 L273.73,371.82 L274.33,370.74 L274.95,369.67 L275.6,368.6 L276.27,367.53 L276.97,366.47 L277.69,365.41 L278.43,364.36 L279.2,363.32 L280,362.28 L280.82,361.24 L281.66,360.21 L282.53,359.19 L283.42,358.17 L284.33,357.16 L285.26,356.16 L286.22,355.16 L287.2,354.17 L288.21,353.19 L289.23,352.21 L290.28,351.25 L291.35,350.29 L292.45,349.33 L293.56,348.39 L294.7,347.45 L295.86,346.53 L297.04,345.61 L298.25,344.69 L299.47,343.79 L300.72,342.9 L301.98,342.02 L303.27,341.14 L304.58,340.28 L305.91,339.42 L307.27,338.57 L308.64,337.74 L310.03,336.92 L311.45,336.1 L312.88,335.3 L314.34,334.51 L315.82,333.73 L317.31,332.97 L318.83,332.21 L320.37,331.48 L321.93,330.75 L323.51,330.04 L325.11,329.35 L326.72,328.67 L328.36,328.02 L330.02,327.39 L331.7,326.78 L333.4,326.2" fill="none" stroke="#2d7a72" stroke-width="1.3" stroke-linecap="round" stroke-linejoin="round" />
<path d="M267.9,390.5 L267.93,389.68 L268.01,388.78 L268.13,387.86 L268.29,386.92 L268.48,385.97 L268.71,385.02 L268.97,384.07 L269.25,383.11 L269.57,382.15 L269.92,381.19 L270.3,380.23 L270.71,379.27 L271.15,378.31 L271.61,377.35 L272.1,376.39 L272.62,375.43 L273.16,374.48 L273.73,373.52 L274.33,372.57 L274.95,371.61 L275.6,370.66 L276.27,369.71 L276.97,368.76 L277.69,367.81 L278.43,366.87 L279.2,365.92 L280,364.98 L280.82,364.04 L281.66,363.1 L282.53,362.17 L283.42,361.23 L284.33,360.3 L285.26,359.37 L286.22,358.44 L287.2,357.51 L288.21,356.59 L289.23,355.66 L290.28,354.74 L291.35,353.82 L292.45,352.9 L293.56,351.99 L294.7,351.07 L295.86,350.16 L297.04,349.25 L298.25,348.34 L299.47,347.43 L300.72,346.53 L301.98,345.62 L303.27,344.72 L304.58,343.82 L305.91,342.92 L307.27,342.02 L308.64,341.12 L310.03,340.23 L311.45,339.33 L312.88,338.44 L314.34,337.54 L315.82,336.65 L317.31,335.75 L318.83,334.86 L320.37,333.96 L321.93,333.06 L323.51,332.15 L325.11,331.24 L326.72,330.32 L328.36,329.39 L330.02,328.43 L331.7,327.42 L333.4,326.2" fill="none" stroke="#35a3a0" stroke-width="1.25" stroke-linecap="round" stroke-linejoin="round" />
</g>
</svg></body></html>
